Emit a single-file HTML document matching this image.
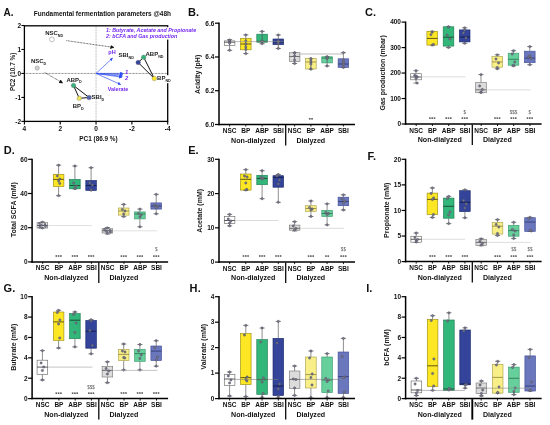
<!DOCTYPE html><html><head><meta charset="utf-8"><title>Fermentation parameters</title>
<style>html,body{margin:0;padding:0;background:#fff;}svg{display:block;will-change:transform;}text{font-family:"Liberation Sans",sans-serif;}</style></head><body>
<svg width="550" height="425" viewBox="0 0 550 425">
<rect x="0" y="0" width="550" height="425" fill="#ffffff"/>
<text x="3.60" y="16.20" font-size="10" font-weight="bold" fill="#111111" text-anchor="start">A.</text>
<text x="33.80" y="16.20" font-size="6.48" font-weight="bold" fill="#111111" text-anchor="start">Fundamental fermentation parameters @48h</text>
<line x1="24.40" y1="73.45" x2="167.70" y2="73.45" stroke="#4a4a4a" stroke-width="0.75" stroke-dasharray="0.8,0.65"/>
<line x1="96.05" y1="25.80" x2="96.05" y2="121.40" stroke="#8a8a8a" stroke-width="0.7" stroke-dasharray="0.8,0.7"/>
<rect x="24.40" y="25.80" width="143.30" height="95.60" fill="none" stroke="#000" stroke-width="1.3"/>
<line x1="21.40" y1="25.50" x2="24.40" y2="25.50" stroke="#000" stroke-width="1.1"/>
<text x="21.10" y="27.80" font-size="6.5" font-weight="bold" fill="#111111" text-anchor="end">2</text>
<line x1="21.40" y1="49.48" x2="24.40" y2="49.48" stroke="#000" stroke-width="1.1"/>
<text x="21.10" y="51.77" font-size="6.5" font-weight="bold" fill="#111111" text-anchor="end">1</text>
<line x1="21.40" y1="73.45" x2="24.40" y2="73.45" stroke="#000" stroke-width="1.1"/>
<text x="21.10" y="75.75" font-size="6.5" font-weight="bold" fill="#111111" text-anchor="end">0</text>
<line x1="21.40" y1="97.43" x2="24.40" y2="97.43" stroke="#000" stroke-width="1.1"/>
<text x="21.10" y="99.73" font-size="6.5" font-weight="bold" fill="#111111" text-anchor="end">-1</text>
<line x1="21.40" y1="121.40" x2="24.40" y2="121.40" stroke="#000" stroke-width="1.1"/>
<text x="21.10" y="123.70" font-size="6.5" font-weight="bold" fill="#111111" text-anchor="end">-2</text>
<line x1="24.40" y1="121.40" x2="24.40" y2="124.40" stroke="#000" stroke-width="1.1"/>
<text x="24.40" y="131.30" font-size="6.5" font-weight="bold" fill="#111111" text-anchor="middle">4</text>
<line x1="60.23" y1="121.40" x2="60.23" y2="124.40" stroke="#000" stroke-width="1.1"/>
<text x="60.23" y="131.30" font-size="6.5" font-weight="bold" fill="#111111" text-anchor="middle">2</text>
<line x1="96.05" y1="121.40" x2="96.05" y2="124.40" stroke="#000" stroke-width="1.1"/>
<text x="96.05" y="131.30" font-size="6.5" font-weight="bold" fill="#111111" text-anchor="middle">0</text>
<line x1="131.88" y1="121.40" x2="131.88" y2="124.40" stroke="#000" stroke-width="1.1"/>
<text x="131.88" y="131.30" font-size="6.5" font-weight="bold" fill="#111111" text-anchor="middle">-2</text>
<line x1="167.70" y1="121.40" x2="167.70" y2="124.40" stroke="#000" stroke-width="1.1"/>
<text x="167.70" y="131.30" font-size="6.5" font-weight="bold" fill="#111111" text-anchor="middle">-4</text>
<text x="98.50" y="141.20" font-size="6.4" font-weight="bold" fill="#111111" text-anchor="middle">PC1 (86.9 %)</text>
<text transform="translate(14.6,71.9) rotate(-90)" x="0" y="0" font-size="6.4" font-weight="bold" fill="#1a1a1a" text-anchor="middle">PC2 (10.7 %)</text>
<defs><marker id="ah" markerWidth="4" markerHeight="4" refX="3.2" refY="2" orient="auto" markerUnits="userSpaceOnUse"><path d="M0,0 L4,2 L0,4 z" fill="#111"/></marker><marker id="bh" markerWidth="3.4" markerHeight="3.4" refX="2.8" refY="1.7" orient="auto" markerUnits="userSpaceOnUse"><path d="M0,0 L3.4,1.7 L0,3.4 z" fill="#2f4cf5"/></marker></defs>
<line x1="66.4" y1="40.6" x2="113.6" y2="47.4" stroke="#1a1a1a" stroke-width="0.7" stroke-dasharray="0.9,0.6" marker-end="url(#ah)"/>
<line x1="44.6" y1="72.4" x2="62.4" y2="82.8" stroke="#1a1a1a" stroke-width="0.7" stroke-dasharray="0.9,0.6" marker-end="url(#ah)"/>
<line x1="96.05" y1="73.45" x2="112.4" y2="58.2" stroke="#3a56f0" stroke-width="0.7" marker-end="url(#bh)"/>
<line x1="96.05" y1="73.45" x2="122.9" y2="73.4" stroke="#3a56f0" stroke-width="0.7" marker-end="url(#bh)"/>
<line x1="96.05" y1="73.45" x2="122.6" y2="74.8" stroke="#3a56f0" stroke-width="0.7" marker-end="url(#bh)"/>
<line x1="96.05" y1="73.45" x2="122.2" y2="76.3" stroke="#3a56f0" stroke-width="0.7" marker-end="url(#bh)"/>
<line x1="96.05" y1="73.45" x2="121.8" y2="77.2" stroke="#3a56f0" stroke-width="0.7" marker-end="url(#bh)"/>
<line x1="96.05" y1="73.45" x2="120.6" y2="84.5" stroke="#3a56f0" stroke-width="0.7" marker-end="url(#bh)"/>
<text x="108.30" y="54.40" font-size="5.5" font-weight="bold" fill="#7428f2" text-anchor="start">pH</text>
<text x="124.90" y="73.70" font-size="5.8" font-weight="bold" fill="#7428f2" text-anchor="start" font-style="italic">1</text>
<text x="124.90" y="80.10" font-size="5.8" font-weight="bold" fill="#7428f2" text-anchor="start" font-style="italic">2</text>
<text x="107.80" y="91.10" font-size="5.35" font-weight="bold" fill="#7428f2" text-anchor="start">Valerate</text>
<rect x="104.50" y="27.20" width="92.00" height="12.40" fill="#ffffff" stroke="none" stroke-width="0.6"/>
<text x="106.00" y="32.10" font-size="5.33" font-weight="bold" fill="#7428f2" text-anchor="start" font-style="italic">1: Butyrate, Acetate and Propionate</text>
<text x="106.00" y="38.30" font-size="5.3" font-weight="bold" fill="#7428f2" text-anchor="start" font-style="italic">2: bCFA and Gas production</text>
<path d="M138.2,62.5 L143.7,57.2 L154.3,78.5 Z" fill="none" stroke="#111" stroke-width="1.0"/>
<path d="M73.5,85.5 L79.3,98.3 L89.1,97.5 Z" fill="none" stroke="#111" stroke-width="1.0"/>
<circle cx="51.90" cy="39.40" r="2.4" fill="#ffffff" stroke="#a8a8a8" stroke-width="0.75"/>
<circle cx="37.20" cy="68.10" r="2.1" fill="#d2d2d2" stroke="#a4a4a4" stroke-width="0.8"/>
<circle cx="138.20" cy="62.50" r="2.3" fill="#33449a" stroke="#555" stroke-width="0.3"/>
<circle cx="143.70" cy="57.20" r="2.3" fill="#33b679" stroke="#555" stroke-width="0.3"/>
<circle cx="154.30" cy="78.50" r="2.3" fill="#fde725" stroke="#555" stroke-width="0.3"/>
<circle cx="73.50" cy="85.50" r="2.3" fill="#38b27a" stroke="#555" stroke-width="0.3"/>
<circle cx="79.30" cy="98.30" r="2.3" fill="#eee460" stroke="#555" stroke-width="0.3"/>
<circle cx="89.10" cy="97.50" r="2.3" fill="#5565ad" stroke="#555" stroke-width="0.3"/>
<text x="45.20" y="34.70" font-size="6.0" font-weight="bold" fill="#222222">NSC<tspan font-size="3.72" dy="1.8">ND</tspan></text>
<text x="30.90" y="62.90" font-size="6.0" font-weight="bold" fill="#222222">NSC<tspan font-size="3.72" dy="1.8">D</tspan></text>
<text x="118.50" y="57.30" font-size="6.0" font-weight="bold" fill="#222222">SBI<tspan font-size="3.72" dy="1.8">ND</tspan></text>
<text x="145.50" y="55.70" font-size="6.0" font-weight="bold" fill="#222222">ABP<tspan font-size="3.72" dy="1.8">ND</tspan></text>
<rect x="157.00" y="75.20" width="15.50" height="8.00" fill="#ffffff" stroke="none" stroke-width="0.6"/>
<text x="157.10" y="80.30" font-size="6.0" font-weight="bold" fill="#222222">BP<tspan font-size="3.72" dy="1.8">ND</tspan></text>
<text x="66.40" y="81.50" font-size="6.0" font-weight="bold" fill="#222222">ABP<tspan font-size="3.72" dy="1.8">D</tspan></text>
<text x="72.70" y="108.40" font-size="6.0" font-weight="bold" fill="#222222">BP<tspan font-size="3.72" dy="1.8">D</tspan></text>
<text x="91.60" y="99.40" font-size="6.0" font-weight="bold" fill="#222222">SBI<tspan font-size="3.72" dy="1.8">D</tspan></text>
<text x="188.00" y="16.10" font-size="11" font-weight="bold" fill="#111111" text-anchor="start" letter-spacing="0.1">B.</text>
<line x1="229.60" y1="39.60" x2="229.60" y2="40.90" stroke="#5e5e5e" stroke-width="0.7"/>
<line x1="229.60" y1="45.40" x2="229.60" y2="50.30" stroke="#5e5e5e" stroke-width="0.7"/>
<line x1="227.00" y1="39.60" x2="232.20" y2="39.60" stroke="#5e5e5e" stroke-width="0.75"/>
<line x1="227.00" y1="50.30" x2="232.20" y2="50.30" stroke="#5e5e5e" stroke-width="0.75"/>
<rect x="224.30" y="40.90" width="10.60" height="4.50" fill="#ffffff" stroke="#6a6a6a" stroke-width="0.65"/>
<line x1="224.30" y1="42.20" x2="234.90" y2="42.20" stroke="#333333" stroke-width="0.8"/>
<line x1="229.60" y1="40.90" x2="229.60" y2="45.40" stroke="#55556a" stroke-width="0.8"/>
<circle cx="229.60" cy="41.00" r="1.15" fill="#78788c" stroke="#4e4e5c" stroke-width="0.45"/>
<circle cx="229.60" cy="42.00" r="1.15" fill="#78788c" stroke="#4e4e5c" stroke-width="0.45"/>
<circle cx="229.60" cy="43.20" r="1.15" fill="#78788c" stroke="#4e4e5c" stroke-width="0.45"/>
<circle cx="229.60" cy="50.30" r="1.15" fill="#78788c" stroke="#4e4e5c" stroke-width="0.45"/>
<circle cx="229.60" cy="40.00" r="1.15" fill="#78788c" stroke="#4e4e5c" stroke-width="0.45"/>
<line x1="245.80" y1="34.90" x2="245.80" y2="38.40" stroke="#5e5e5e" stroke-width="0.7"/>
<line x1="245.80" y1="49.80" x2="245.80" y2="53.60" stroke="#5e5e5e" stroke-width="0.7"/>
<line x1="243.20" y1="34.90" x2="248.40" y2="34.90" stroke="#5e5e5e" stroke-width="0.75"/>
<line x1="243.20" y1="53.60" x2="248.40" y2="53.60" stroke="#5e5e5e" stroke-width="0.75"/>
<rect x="240.50" y="38.40" width="10.60" height="11.40" fill="#fde725" stroke="#9c8d10" stroke-width="0.65"/>
<line x1="240.50" y1="44.00" x2="251.10" y2="44.00" stroke="#3a3510" stroke-width="0.8"/>
<line x1="245.80" y1="38.40" x2="245.80" y2="49.80" stroke="#55556a" stroke-width="0.8"/>
<circle cx="245.80" cy="34.90" r="1.15" fill="#78788c" stroke="#4e4e5c" stroke-width="0.45"/>
<circle cx="245.80" cy="41.00" r="1.15" fill="#78788c" stroke="#4e4e5c" stroke-width="0.45"/>
<circle cx="245.80" cy="44.00" r="1.15" fill="#78788c" stroke="#4e4e5c" stroke-width="0.45"/>
<circle cx="245.80" cy="47.00" r="1.15" fill="#78788c" stroke="#4e4e5c" stroke-width="0.45"/>
<circle cx="245.80" cy="49.50" r="1.15" fill="#78788c" stroke="#4e4e5c" stroke-width="0.45"/>
<circle cx="245.80" cy="53.60" r="1.15" fill="#78788c" stroke="#4e4e5c" stroke-width="0.45"/>
<line x1="262.10" y1="31.40" x2="262.10" y2="34.20" stroke="#5e5e5e" stroke-width="0.7"/>
<line x1="262.10" y1="42.20" x2="262.10" y2="43.70" stroke="#5e5e5e" stroke-width="0.7"/>
<line x1="259.50" y1="31.40" x2="264.70" y2="31.40" stroke="#5e5e5e" stroke-width="0.75"/>
<line x1="259.50" y1="43.70" x2="264.70" y2="43.70" stroke="#5e5e5e" stroke-width="0.75"/>
<rect x="256.80" y="34.20" width="10.60" height="8.00" fill="#33b679" stroke="#1f7d52" stroke-width="0.65"/>
<line x1="256.80" y1="41.40" x2="267.40" y2="41.40" stroke="#123a26" stroke-width="0.8"/>
<line x1="262.10" y1="34.20" x2="262.10" y2="42.20" stroke="#55556a" stroke-width="0.8"/>
<circle cx="262.10" cy="31.40" r="1.15" fill="#78788c" stroke="#4e4e5c" stroke-width="0.45"/>
<circle cx="262.10" cy="41.00" r="1.15" fill="#78788c" stroke="#4e4e5c" stroke-width="0.45"/>
<circle cx="262.10" cy="41.80" r="1.15" fill="#78788c" stroke="#4e4e5c" stroke-width="0.45"/>
<circle cx="262.10" cy="43.70" r="1.15" fill="#78788c" stroke="#4e4e5c" stroke-width="0.45"/>
<circle cx="262.10" cy="41.50" r="1.15" fill="#78788c" stroke="#4e4e5c" stroke-width="0.45"/>
<line x1="278.30" y1="35.00" x2="278.30" y2="39.00" stroke="#5e5e5e" stroke-width="0.7"/>
<line x1="278.30" y1="44.70" x2="278.30" y2="48.50" stroke="#5e5e5e" stroke-width="0.7"/>
<line x1="275.70" y1="35.00" x2="280.90" y2="35.00" stroke="#5e5e5e" stroke-width="0.75"/>
<line x1="275.70" y1="48.50" x2="280.90" y2="48.50" stroke="#5e5e5e" stroke-width="0.75"/>
<rect x="273.00" y="39.00" width="10.60" height="5.70" fill="#33449a" stroke="#1d2b6e" stroke-width="0.65"/>
<line x1="273.00" y1="42.00" x2="283.60" y2="42.00" stroke="#0f1738" stroke-width="0.8"/>
<line x1="278.30" y1="39.00" x2="278.30" y2="44.70" stroke="#55556a" stroke-width="0.8"/>
<circle cx="278.30" cy="35.00" r="1.15" fill="#78788c" stroke="#4e4e5c" stroke-width="0.45"/>
<circle cx="278.30" cy="41.00" r="1.15" fill="#78788c" stroke="#4e4e5c" stroke-width="0.45"/>
<circle cx="278.30" cy="44.00" r="1.15" fill="#78788c" stroke="#4e4e5c" stroke-width="0.45"/>
<circle cx="278.30" cy="48.50" r="1.15" fill="#78788c" stroke="#4e4e5c" stroke-width="0.45"/>
<circle cx="278.30" cy="42.00" r="1.15" fill="#78788c" stroke="#4e4e5c" stroke-width="0.45"/>
<line x1="294.60" y1="52.70" x2="294.60" y2="52.70" stroke="#5e5e5e" stroke-width="0.7"/>
<line x1="294.60" y1="61.60" x2="294.60" y2="63.50" stroke="#5e5e5e" stroke-width="0.7"/>
<line x1="292.00" y1="52.70" x2="297.20" y2="52.70" stroke="#5e5e5e" stroke-width="0.75"/>
<line x1="292.00" y1="63.50" x2="297.20" y2="63.50" stroke="#5e5e5e" stroke-width="0.75"/>
<rect x="289.30" y="52.70" width="10.60" height="8.90" fill="#dcdcdc" stroke="#7a7a7a" stroke-width="0.65"/>
<line x1="289.30" y1="56.50" x2="299.90" y2="56.50" stroke="#555555" stroke-width="0.8"/>
<line x1="294.60" y1="52.70" x2="294.60" y2="61.60" stroke="#55556a" stroke-width="0.8"/>
<circle cx="294.60" cy="52.70" r="1.15" fill="#78788c" stroke="#4e4e5c" stroke-width="0.45"/>
<circle cx="294.60" cy="56.00" r="1.15" fill="#78788c" stroke="#4e4e5c" stroke-width="0.45"/>
<circle cx="294.60" cy="60.00" r="1.15" fill="#78788c" stroke="#4e4e5c" stroke-width="0.45"/>
<circle cx="294.60" cy="63.50" r="1.15" fill="#78788c" stroke="#4e4e5c" stroke-width="0.45"/>
<circle cx="294.60" cy="53.00" r="1.15" fill="#78788c" stroke="#4e4e5c" stroke-width="0.45"/>
<line x1="310.90" y1="58.50" x2="310.90" y2="58.50" stroke="#5e5e5e" stroke-width="0.7"/>
<line x1="310.90" y1="69.00" x2="310.90" y2="69.00" stroke="#5e5e5e" stroke-width="0.7"/>
<line x1="308.30" y1="58.50" x2="313.50" y2="58.50" stroke="#5e5e5e" stroke-width="0.75"/>
<line x1="308.30" y1="69.00" x2="313.50" y2="69.00" stroke="#5e5e5e" stroke-width="0.75"/>
<rect x="305.60" y="58.50" width="10.60" height="10.50" fill="#f8ef88" stroke="#aca24a" stroke-width="0.65"/>
<line x1="305.60" y1="62.00" x2="316.20" y2="62.00" stroke="#8a8240" stroke-width="0.8"/>
<line x1="310.90" y1="58.50" x2="310.90" y2="69.00" stroke="#55556a" stroke-width="0.8"/>
<circle cx="310.90" cy="58.50" r="1.15" fill="#78788c" stroke="#4e4e5c" stroke-width="0.45"/>
<circle cx="310.90" cy="62.00" r="1.15" fill="#78788c" stroke="#4e4e5c" stroke-width="0.45"/>
<circle cx="310.90" cy="64.00" r="1.15" fill="#78788c" stroke="#4e4e5c" stroke-width="0.45"/>
<circle cx="310.90" cy="69.00" r="1.15" fill="#78788c" stroke="#4e4e5c" stroke-width="0.45"/>
<circle cx="310.90" cy="60.00" r="1.15" fill="#78788c" stroke="#4e4e5c" stroke-width="0.45"/>
<circle cx="310.90" cy="69.00" r="1.15" fill="#78788c" stroke="#4e4e5c" stroke-width="0.45"/>
<line x1="327.10" y1="56.80" x2="327.10" y2="56.80" stroke="#5e5e5e" stroke-width="0.7"/>
<line x1="327.10" y1="62.90" x2="327.10" y2="66.00" stroke="#5e5e5e" stroke-width="0.7"/>
<line x1="324.50" y1="56.80" x2="329.70" y2="56.80" stroke="#5e5e5e" stroke-width="0.75"/>
<line x1="324.50" y1="66.00" x2="329.70" y2="66.00" stroke="#5e5e5e" stroke-width="0.75"/>
<rect x="321.80" y="56.80" width="10.60" height="6.10" fill="#66cf9c" stroke="#3a9a6c" stroke-width="0.65"/>
<line x1="321.80" y1="58.00" x2="332.40" y2="58.00" stroke="#2a6e4e" stroke-width="0.8"/>
<line x1="327.10" y1="56.80" x2="327.10" y2="62.90" stroke="#55556a" stroke-width="0.8"/>
<circle cx="327.10" cy="56.80" r="1.15" fill="#78788c" stroke="#4e4e5c" stroke-width="0.45"/>
<circle cx="327.10" cy="57.50" r="1.15" fill="#78788c" stroke="#4e4e5c" stroke-width="0.45"/>
<circle cx="327.10" cy="58.50" r="1.15" fill="#78788c" stroke="#4e4e5c" stroke-width="0.45"/>
<circle cx="327.10" cy="66.00" r="1.15" fill="#78788c" stroke="#4e4e5c" stroke-width="0.45"/>
<circle cx="327.10" cy="57.00" r="1.15" fill="#78788c" stroke="#4e4e5c" stroke-width="0.45"/>
<line x1="343.40" y1="52.70" x2="343.40" y2="58.80" stroke="#5e5e5e" stroke-width="0.7"/>
<line x1="343.40" y1="67.40" x2="343.40" y2="67.40" stroke="#5e5e5e" stroke-width="0.7"/>
<line x1="340.80" y1="52.70" x2="346.00" y2="52.70" stroke="#5e5e5e" stroke-width="0.75"/>
<line x1="340.80" y1="67.40" x2="346.00" y2="67.40" stroke="#5e5e5e" stroke-width="0.75"/>
<rect x="338.10" y="58.80" width="10.60" height="8.60" fill="#6b77bc" stroke="#434f9a" stroke-width="0.65"/>
<line x1="338.10" y1="64.00" x2="348.70" y2="64.00" stroke="#2c3670" stroke-width="0.8"/>
<line x1="343.40" y1="58.80" x2="343.40" y2="67.40" stroke="#55556a" stroke-width="0.8"/>
<circle cx="343.40" cy="52.70" r="1.15" fill="#78788c" stroke="#4e4e5c" stroke-width="0.45"/>
<circle cx="343.40" cy="60.00" r="1.15" fill="#78788c" stroke="#4e4e5c" stroke-width="0.45"/>
<circle cx="343.40" cy="64.00" r="1.15" fill="#78788c" stroke="#4e4e5c" stroke-width="0.45"/>
<circle cx="343.40" cy="67.40" r="1.15" fill="#78788c" stroke="#4e4e5c" stroke-width="0.45"/>
<circle cx="343.40" cy="62.00" r="1.15" fill="#78788c" stroke="#4e4e5c" stroke-width="0.45"/>
<circle cx="343.40" cy="67.00" r="1.15" fill="#78788c" stroke="#4e4e5c" stroke-width="0.45"/>
<line x1="235.00" y1="41.60" x2="283.50" y2="41.60" stroke="#8e8e8e" stroke-width="0.6"/>
<line x1="300.00" y1="54.00" x2="343.40" y2="54.00" stroke="#8e8e8e" stroke-width="0.6"/>
<rect x="308.95" y="118.00" width="1.60" height="1.60" fill="#5a5a5a" stroke="none" stroke-width="0.6"/>
<rect x="311.25" y="118.00" width="1.60" height="1.60" fill="#5a5a5a" stroke="none" stroke-width="0.6"/>
<line x1="219.00" y1="22.60" x2="219.00" y2="125.25" stroke="#000" stroke-width="1.5"/>
<line x1="218.25" y1="124.50" x2="355.00" y2="124.50" stroke="#000" stroke-width="1.5"/>
<line x1="215.00" y1="124.50" x2="219.00" y2="124.50" stroke="#000" stroke-width="1.2"/>
<text x="214.40" y="126.80" font-size="6.5" font-weight="bold" fill="#111111" text-anchor="end">6.0</text>
<line x1="215.00" y1="90.73" x2="219.00" y2="90.73" stroke="#000" stroke-width="1.2"/>
<text x="214.40" y="93.03" font-size="6.5" font-weight="bold" fill="#111111" text-anchor="end">6.2</text>
<line x1="215.00" y1="56.97" x2="219.00" y2="56.97" stroke="#000" stroke-width="1.2"/>
<text x="214.40" y="59.27" font-size="6.5" font-weight="bold" fill="#111111" text-anchor="end">6.4</text>
<line x1="215.00" y1="23.20" x2="219.00" y2="23.20" stroke="#000" stroke-width="1.2"/>
<text x="214.40" y="25.50" font-size="6.5" font-weight="bold" fill="#111111" text-anchor="end">6.6</text>
<line x1="229.60" y1="124.50" x2="229.60" y2="126.50" stroke="#000" stroke-width="0.9"/>
<text x="229.60" y="133.00" font-size="6.5" font-weight="bold" fill="#111111" text-anchor="middle">NSC</text>
<line x1="245.80" y1="124.50" x2="245.80" y2="126.50" stroke="#000" stroke-width="0.9"/>
<text x="245.80" y="133.00" font-size="6.5" font-weight="bold" fill="#111111" text-anchor="middle">BP</text>
<line x1="262.10" y1="124.50" x2="262.10" y2="126.50" stroke="#000" stroke-width="0.9"/>
<text x="262.10" y="133.00" font-size="6.5" font-weight="bold" fill="#111111" text-anchor="middle">ABP</text>
<line x1="278.30" y1="124.50" x2="278.30" y2="126.50" stroke="#000" stroke-width="0.9"/>
<text x="278.30" y="133.00" font-size="6.5" font-weight="bold" fill="#111111" text-anchor="middle">SBI</text>
<line x1="294.60" y1="124.50" x2="294.60" y2="126.50" stroke="#000" stroke-width="0.9"/>
<text x="294.60" y="133.00" font-size="6.5" font-weight="bold" fill="#111111" text-anchor="middle">NSC</text>
<line x1="310.90" y1="124.50" x2="310.90" y2="126.50" stroke="#000" stroke-width="0.9"/>
<text x="310.90" y="133.00" font-size="6.5" font-weight="bold" fill="#111111" text-anchor="middle">BP</text>
<line x1="327.10" y1="124.50" x2="327.10" y2="126.50" stroke="#000" stroke-width="0.9"/>
<text x="327.10" y="133.00" font-size="6.5" font-weight="bold" fill="#111111" text-anchor="middle">ABP</text>
<line x1="343.40" y1="124.50" x2="343.40" y2="126.50" stroke="#000" stroke-width="0.9"/>
<text x="343.40" y="133.00" font-size="6.5" font-weight="bold" fill="#111111" text-anchor="middle">SBI</text>
<line x1="285.70" y1="125.00" x2="285.70" y2="145.50" stroke="#000" stroke-width="1.25"/>
<text x="253.20" y="142.60" font-size="7.1" font-weight="bold" fill="#111111" text-anchor="middle">Non-dialyzed</text>
<text x="310.80" y="142.60" font-size="7.1" font-weight="bold" fill="#111111" text-anchor="middle">Dialyzed</text>
<text transform="translate(200.40,74.40) rotate(-90)" x="0" y="0" font-size="7" font-weight="bold" fill="#1a1a1a" text-anchor="middle">Acidity (pH)</text>
<text x="365.00" y="16.20" font-size="11" font-weight="bold" fill="#111111" text-anchor="start" letter-spacing="0.1">C.</text>
<line x1="416.00" y1="70.70" x2="416.00" y2="73.70" stroke="#5e5e5e" stroke-width="0.7"/>
<line x1="416.00" y1="79.80" x2="416.00" y2="83.10" stroke="#5e5e5e" stroke-width="0.7"/>
<line x1="413.40" y1="70.70" x2="418.60" y2="70.70" stroke="#5e5e5e" stroke-width="0.75"/>
<line x1="413.40" y1="83.10" x2="418.60" y2="83.10" stroke="#5e5e5e" stroke-width="0.75"/>
<rect x="410.70" y="73.70" width="10.60" height="6.10" fill="#ffffff" stroke="#6a6a6a" stroke-width="0.65"/>
<line x1="410.70" y1="77.00" x2="421.30" y2="77.00" stroke="#333333" stroke-width="0.8"/>
<circle cx="416.00" cy="70.70" r="1.15" fill="#78788c" stroke="#4e4e5c" stroke-width="0.45"/>
<circle cx="414.70" cy="75.50" r="1.15" fill="#78788c" stroke="#4e4e5c" stroke-width="0.45"/>
<circle cx="417.30" cy="77.00" r="1.15" fill="#78788c" stroke="#4e4e5c" stroke-width="0.45"/>
<circle cx="416.00" cy="78.50" r="1.15" fill="#78788c" stroke="#4e4e5c" stroke-width="0.45"/>
<circle cx="417.10" cy="83.10" r="1.15" fill="#78788c" stroke="#4e4e5c" stroke-width="0.45"/>
<circle cx="416.00" cy="76.00" r="1.15" fill="#78788c" stroke="#4e4e5c" stroke-width="0.45"/>
<line x1="432.20" y1="31.30" x2="432.20" y2="31.30" stroke="#5e5e5e" stroke-width="0.7"/>
<line x1="432.20" y1="45.10" x2="432.20" y2="45.10" stroke="#5e5e5e" stroke-width="0.7"/>
<line x1="429.60" y1="31.30" x2="434.80" y2="31.30" stroke="#5e5e5e" stroke-width="0.75"/>
<line x1="429.60" y1="45.10" x2="434.80" y2="45.10" stroke="#5e5e5e" stroke-width="0.75"/>
<rect x="426.90" y="31.30" width="10.60" height="13.80" fill="#fde725" stroke="#9c8d10" stroke-width="0.65"/>
<line x1="426.90" y1="38.40" x2="437.50" y2="38.40" stroke="#3a3510" stroke-width="0.8"/>
<circle cx="432.20" cy="32.00" r="1.15" fill="#78788c" stroke="#4e4e5c" stroke-width="0.45"/>
<circle cx="430.90" cy="34.70" r="1.15" fill="#78788c" stroke="#4e4e5c" stroke-width="0.45"/>
<circle cx="433.50" cy="44.50" r="1.15" fill="#78788c" stroke="#4e4e5c" stroke-width="0.45"/>
<circle cx="432.20" cy="45.10" r="1.15" fill="#78788c" stroke="#4e4e5c" stroke-width="0.45"/>
<circle cx="432.20" cy="32.00" r="1.15" fill="#78788c" stroke="#4e4e5c" stroke-width="0.45"/>
<line x1="448.50" y1="26.80" x2="448.50" y2="26.80" stroke="#5e5e5e" stroke-width="0.7"/>
<line x1="448.50" y1="46.10" x2="448.50" y2="47.50" stroke="#5e5e5e" stroke-width="0.7"/>
<line x1="445.90" y1="26.80" x2="451.10" y2="26.80" stroke="#5e5e5e" stroke-width="0.75"/>
<line x1="445.90" y1="47.50" x2="451.10" y2="47.50" stroke="#5e5e5e" stroke-width="0.75"/>
<rect x="443.20" y="26.80" width="10.60" height="19.30" fill="#33b679" stroke="#1f7d52" stroke-width="0.65"/>
<line x1="443.20" y1="37.20" x2="453.80" y2="37.20" stroke="#123a26" stroke-width="0.8"/>
<circle cx="448.50" cy="26.80" r="1.15" fill="#78788c" stroke="#4e4e5c" stroke-width="0.45"/>
<circle cx="447.20" cy="35.00" r="1.15" fill="#78788c" stroke="#4e4e5c" stroke-width="0.45"/>
<circle cx="449.80" cy="39.00" r="1.15" fill="#78788c" stroke="#4e4e5c" stroke-width="0.45"/>
<circle cx="448.50" cy="47.50" r="1.15" fill="#78788c" stroke="#4e4e5c" stroke-width="0.45"/>
<circle cx="448.50" cy="27.00" r="1.15" fill="#78788c" stroke="#4e4e5c" stroke-width="0.45"/>
<line x1="464.70" y1="27.80" x2="464.70" y2="29.90" stroke="#5e5e5e" stroke-width="0.7"/>
<line x1="464.70" y1="41.90" x2="464.70" y2="43.30" stroke="#5e5e5e" stroke-width="0.7"/>
<line x1="462.10" y1="27.80" x2="467.30" y2="27.80" stroke="#5e5e5e" stroke-width="0.75"/>
<line x1="462.10" y1="43.30" x2="467.30" y2="43.30" stroke="#5e5e5e" stroke-width="0.75"/>
<rect x="459.40" y="29.90" width="10.60" height="12.00" fill="#33449a" stroke="#1d2b6e" stroke-width="0.65"/>
<line x1="459.40" y1="37.00" x2="470.00" y2="37.00" stroke="#0f1738" stroke-width="0.8"/>
<circle cx="464.70" cy="27.80" r="1.15" fill="#78788c" stroke="#4e4e5c" stroke-width="0.45"/>
<circle cx="463.40" cy="33.00" r="1.15" fill="#78788c" stroke="#4e4e5c" stroke-width="0.45"/>
<circle cx="466.00" cy="38.00" r="1.15" fill="#78788c" stroke="#4e4e5c" stroke-width="0.45"/>
<circle cx="464.70" cy="43.30" r="1.15" fill="#78788c" stroke="#4e4e5c" stroke-width="0.45"/>
<circle cx="464.70" cy="30.00" r="1.15" fill="#78788c" stroke="#4e4e5c" stroke-width="0.45"/>
<line x1="481.00" y1="74.60" x2="481.00" y2="82.50" stroke="#5e5e5e" stroke-width="0.7"/>
<line x1="481.00" y1="92.70" x2="481.00" y2="92.70" stroke="#5e5e5e" stroke-width="0.7"/>
<line x1="478.40" y1="74.60" x2="483.60" y2="74.60" stroke="#5e5e5e" stroke-width="0.75"/>
<line x1="478.40" y1="92.70" x2="483.60" y2="92.70" stroke="#5e5e5e" stroke-width="0.75"/>
<rect x="475.70" y="82.50" width="10.60" height="10.20" fill="#dcdcdc" stroke="#7a7a7a" stroke-width="0.65"/>
<line x1="475.70" y1="89.80" x2="486.30" y2="89.80" stroke="#555555" stroke-width="0.8"/>
<circle cx="481.00" cy="74.60" r="1.15" fill="#78788c" stroke="#4e4e5c" stroke-width="0.45"/>
<circle cx="479.70" cy="86.00" r="1.15" fill="#78788c" stroke="#4e4e5c" stroke-width="0.45"/>
<circle cx="482.30" cy="89.50" r="1.15" fill="#78788c" stroke="#4e4e5c" stroke-width="0.45"/>
<circle cx="481.00" cy="92.00" r="1.15" fill="#78788c" stroke="#4e4e5c" stroke-width="0.45"/>
<circle cx="481.00" cy="92.50" r="1.15" fill="#78788c" stroke="#4e4e5c" stroke-width="0.45"/>
<line x1="497.30" y1="54.80" x2="497.30" y2="56.50" stroke="#5e5e5e" stroke-width="0.7"/>
<line x1="497.30" y1="67.20" x2="497.30" y2="68.80" stroke="#5e5e5e" stroke-width="0.7"/>
<line x1="494.70" y1="54.80" x2="499.90" y2="54.80" stroke="#5e5e5e" stroke-width="0.75"/>
<line x1="494.70" y1="68.80" x2="499.90" y2="68.80" stroke="#5e5e5e" stroke-width="0.75"/>
<rect x="492.00" y="56.50" width="10.60" height="10.70" fill="#f8ef88" stroke="#aca24a" stroke-width="0.65"/>
<line x1="492.00" y1="61.90" x2="502.60" y2="61.90" stroke="#8a8240" stroke-width="0.8"/>
<circle cx="497.30" cy="54.80" r="1.15" fill="#78788c" stroke="#4e4e5c" stroke-width="0.45"/>
<circle cx="496.00" cy="59.00" r="1.15" fill="#78788c" stroke="#4e4e5c" stroke-width="0.45"/>
<circle cx="498.60" cy="63.00" r="1.15" fill="#78788c" stroke="#4e4e5c" stroke-width="0.45"/>
<circle cx="497.30" cy="68.80" r="1.15" fill="#78788c" stroke="#4e4e5c" stroke-width="0.45"/>
<circle cx="497.30" cy="67.50" r="1.15" fill="#78788c" stroke="#4e4e5c" stroke-width="0.45"/>
<line x1="513.50" y1="50.70" x2="513.50" y2="53.20" stroke="#5e5e5e" stroke-width="0.7"/>
<line x1="513.50" y1="65.20" x2="513.50" y2="65.90" stroke="#5e5e5e" stroke-width="0.7"/>
<line x1="510.90" y1="50.70" x2="516.10" y2="50.70" stroke="#5e5e5e" stroke-width="0.75"/>
<line x1="510.90" y1="65.90" x2="516.10" y2="65.90" stroke="#5e5e5e" stroke-width="0.75"/>
<rect x="508.20" y="53.20" width="10.60" height="12.00" fill="#66cf9c" stroke="#3a9a6c" stroke-width="0.65"/>
<line x1="508.20" y1="59.30" x2="518.80" y2="59.30" stroke="#2a6e4e" stroke-width="0.8"/>
<circle cx="513.50" cy="50.70" r="1.15" fill="#78788c" stroke="#4e4e5c" stroke-width="0.45"/>
<circle cx="512.20" cy="54.00" r="1.15" fill="#78788c" stroke="#4e4e5c" stroke-width="0.45"/>
<circle cx="514.80" cy="62.00" r="1.15" fill="#78788c" stroke="#4e4e5c" stroke-width="0.45"/>
<circle cx="513.50" cy="65.90" r="1.15" fill="#78788c" stroke="#4e4e5c" stroke-width="0.45"/>
<circle cx="513.50" cy="65.20" r="1.15" fill="#78788c" stroke="#4e4e5c" stroke-width="0.45"/>
<line x1="529.80" y1="46.60" x2="529.80" y2="51.20" stroke="#5e5e5e" stroke-width="0.7"/>
<line x1="529.80" y1="62.70" x2="529.80" y2="64.70" stroke="#5e5e5e" stroke-width="0.7"/>
<line x1="527.20" y1="46.60" x2="532.40" y2="46.60" stroke="#5e5e5e" stroke-width="0.75"/>
<line x1="527.20" y1="64.70" x2="532.40" y2="64.70" stroke="#5e5e5e" stroke-width="0.75"/>
<rect x="524.50" y="51.20" width="10.60" height="11.50" fill="#6b77bc" stroke="#434f9a" stroke-width="0.65"/>
<line x1="524.50" y1="58.10" x2="535.10" y2="58.10" stroke="#2c3670" stroke-width="0.8"/>
<circle cx="529.80" cy="46.60" r="1.15" fill="#78788c" stroke="#4e4e5c" stroke-width="0.45"/>
<circle cx="528.50" cy="57.00" r="1.15" fill="#78788c" stroke="#4e4e5c" stroke-width="0.45"/>
<circle cx="531.10" cy="58.50" r="1.15" fill="#78788c" stroke="#4e4e5c" stroke-width="0.45"/>
<circle cx="529.80" cy="64.70" r="1.15" fill="#78788c" stroke="#4e4e5c" stroke-width="0.45"/>
<circle cx="529.80" cy="56.00" r="1.15" fill="#78788c" stroke="#4e4e5c" stroke-width="0.45"/>
<line x1="421.40" y1="76.80" x2="465.40" y2="76.80" stroke="#c6c6c6" stroke-width="0.6"/>
<line x1="486.40" y1="89.90" x2="530.70" y2="89.90" stroke="#c6c6c6" stroke-width="0.6"/>
<rect x="429.10" y="117.30" width="1.60" height="1.60" fill="#5a5a5a" stroke="none" stroke-width="0.6"/>
<rect x="431.40" y="117.30" width="1.60" height="1.60" fill="#5a5a5a" stroke="none" stroke-width="0.6"/>
<rect x="433.70" y="117.30" width="1.60" height="1.60" fill="#5a5a5a" stroke="none" stroke-width="0.6"/>
<rect x="445.40" y="117.30" width="1.60" height="1.60" fill="#5a5a5a" stroke="none" stroke-width="0.6"/>
<rect x="447.70" y="117.30" width="1.60" height="1.60" fill="#5a5a5a" stroke="none" stroke-width="0.6"/>
<rect x="450.00" y="117.30" width="1.60" height="1.60" fill="#5a5a5a" stroke="none" stroke-width="0.6"/>
<rect x="461.60" y="117.30" width="1.60" height="1.60" fill="#5a5a5a" stroke="none" stroke-width="0.6"/>
<rect x="463.90" y="117.30" width="1.60" height="1.60" fill="#5a5a5a" stroke="none" stroke-width="0.6"/>
<rect x="466.20" y="117.30" width="1.60" height="1.60" fill="#5a5a5a" stroke="none" stroke-width="0.6"/>
<text x="464.70" y="113.80" font-size="4.6" font-weight="normal" fill="#5a5a5a" text-anchor="middle">$</text>
<rect x="494.20" y="117.30" width="1.60" height="1.60" fill="#5a5a5a" stroke="none" stroke-width="0.6"/>
<rect x="496.50" y="117.30" width="1.60" height="1.60" fill="#5a5a5a" stroke="none" stroke-width="0.6"/>
<rect x="498.80" y="117.30" width="1.60" height="1.60" fill="#5a5a5a" stroke="none" stroke-width="0.6"/>
<rect x="510.40" y="117.30" width="1.60" height="1.60" fill="#5a5a5a" stroke="none" stroke-width="0.6"/>
<rect x="512.70" y="117.30" width="1.60" height="1.60" fill="#5a5a5a" stroke="none" stroke-width="0.6"/>
<rect x="515.00" y="117.30" width="1.60" height="1.60" fill="#5a5a5a" stroke="none" stroke-width="0.6"/>
<rect x="526.70" y="117.30" width="1.60" height="1.60" fill="#5a5a5a" stroke="none" stroke-width="0.6"/>
<rect x="529.00" y="117.30" width="1.60" height="1.60" fill="#5a5a5a" stroke="none" stroke-width="0.6"/>
<rect x="531.30" y="117.30" width="1.60" height="1.60" fill="#5a5a5a" stroke="none" stroke-width="0.6"/>
<text x="513.50" y="113.80" font-size="4.6" font-weight="normal" fill="#5a5a5a" text-anchor="middle">$$$</text>
<text x="529.80" y="113.80" font-size="4.6" font-weight="normal" fill="#5a5a5a" text-anchor="middle">$</text>
<line x1="405.60" y1="21.50" x2="405.60" y2="124.75" stroke="#000" stroke-width="1.5"/>
<line x1="404.85" y1="124.00" x2="541.60" y2="124.00" stroke="#000" stroke-width="1.5"/>
<line x1="401.60" y1="124.00" x2="405.60" y2="124.00" stroke="#000" stroke-width="1.2"/>
<text x="401.00" y="126.30" font-size="6.5" font-weight="bold" fill="#111111" text-anchor="end">0</text>
<line x1="401.60" y1="98.53" x2="405.60" y2="98.53" stroke="#000" stroke-width="1.2"/>
<text x="401.00" y="100.83" font-size="6.5" font-weight="bold" fill="#111111" text-anchor="end">100</text>
<line x1="401.60" y1="73.05" x2="405.60" y2="73.05" stroke="#000" stroke-width="1.2"/>
<text x="401.00" y="75.35" font-size="6.5" font-weight="bold" fill="#111111" text-anchor="end">200</text>
<line x1="401.60" y1="47.57" x2="405.60" y2="47.57" stroke="#000" stroke-width="1.2"/>
<text x="401.00" y="49.87" font-size="6.5" font-weight="bold" fill="#111111" text-anchor="end">300</text>
<line x1="401.60" y1="22.10" x2="405.60" y2="22.10" stroke="#000" stroke-width="1.2"/>
<text x="401.00" y="24.40" font-size="6.5" font-weight="bold" fill="#111111" text-anchor="end">400</text>
<line x1="416.20" y1="124.00" x2="416.20" y2="126.00" stroke="#000" stroke-width="0.9"/>
<text x="416.20" y="132.50" font-size="6.5" font-weight="bold" fill="#111111" text-anchor="middle">NSC</text>
<line x1="432.40" y1="124.00" x2="432.40" y2="126.00" stroke="#000" stroke-width="0.9"/>
<text x="432.40" y="132.50" font-size="6.5" font-weight="bold" fill="#111111" text-anchor="middle">BP</text>
<line x1="448.70" y1="124.00" x2="448.70" y2="126.00" stroke="#000" stroke-width="0.9"/>
<text x="448.70" y="132.50" font-size="6.5" font-weight="bold" fill="#111111" text-anchor="middle">ABP</text>
<line x1="464.90" y1="124.00" x2="464.90" y2="126.00" stroke="#000" stroke-width="0.9"/>
<text x="464.90" y="132.50" font-size="6.5" font-weight="bold" fill="#111111" text-anchor="middle">SBI</text>
<line x1="481.20" y1="124.00" x2="481.20" y2="126.00" stroke="#000" stroke-width="0.9"/>
<text x="481.20" y="132.50" font-size="6.5" font-weight="bold" fill="#111111" text-anchor="middle">NSC</text>
<line x1="497.50" y1="124.00" x2="497.50" y2="126.00" stroke="#000" stroke-width="0.9"/>
<text x="497.50" y="132.50" font-size="6.5" font-weight="bold" fill="#111111" text-anchor="middle">BP</text>
<line x1="513.70" y1="124.00" x2="513.70" y2="126.00" stroke="#000" stroke-width="0.9"/>
<text x="513.70" y="132.50" font-size="6.5" font-weight="bold" fill="#111111" text-anchor="middle">ABP</text>
<line x1="530.00" y1="124.00" x2="530.00" y2="126.00" stroke="#000" stroke-width="0.9"/>
<text x="530.00" y="132.50" font-size="6.5" font-weight="bold" fill="#111111" text-anchor="middle">SBI</text>
<line x1="472.30" y1="124.50" x2="472.30" y2="145.00" stroke="#000" stroke-width="1.25"/>
<text x="439.80" y="142.10" font-size="7.1" font-weight="bold" fill="#111111" text-anchor="middle">Non-dialyzed</text>
<text x="497.40" y="142.10" font-size="7.1" font-weight="bold" fill="#111111" text-anchor="middle">Dialyzed</text>
<text transform="translate(385.30,72.80) rotate(-90)" x="0" y="0" font-size="7" font-weight="bold" fill="#1a1a1a" text-anchor="middle">Gas production (mbar)</text>
<text x="3.70" y="153.60" font-size="11" font-weight="bold" fill="#111111" text-anchor="start" letter-spacing="0.1">D.</text>
<line x1="42.40" y1="222.00" x2="42.40" y2="222.70" stroke="#5e5e5e" stroke-width="0.7"/>
<line x1="42.40" y1="228.00" x2="42.40" y2="228.00" stroke="#5e5e5e" stroke-width="0.7"/>
<line x1="39.80" y1="222.00" x2="45.00" y2="222.00" stroke="#5e5e5e" stroke-width="0.75"/>
<line x1="39.80" y1="228.00" x2="45.00" y2="228.00" stroke="#5e5e5e" stroke-width="0.75"/>
<rect x="37.10" y="222.70" width="10.60" height="5.30" fill="#ffffff" stroke="#6a6a6a" stroke-width="0.65"/>
<line x1="37.10" y1="225.50" x2="47.70" y2="225.50" stroke="#333333" stroke-width="0.8"/>
<circle cx="42.40" cy="222.20" r="1.15" fill="#78788c" stroke="#4e4e5c" stroke-width="0.45"/>
<circle cx="39.40" cy="223.60" r="1.15" fill="#78788c" stroke="#4e4e5c" stroke-width="0.45"/>
<circle cx="45.00" cy="224.40" r="1.15" fill="#78788c" stroke="#4e4e5c" stroke-width="0.45"/>
<circle cx="41.40" cy="225.20" r="1.15" fill="#78788c" stroke="#4e4e5c" stroke-width="0.45"/>
<circle cx="45.40" cy="226.40" r="1.15" fill="#78788c" stroke="#4e4e5c" stroke-width="0.45"/>
<circle cx="39.80" cy="227.20" r="1.15" fill="#78788c" stroke="#4e4e5c" stroke-width="0.45"/>
<circle cx="42.40" cy="228.00" r="1.15" fill="#78788c" stroke="#4e4e5c" stroke-width="0.45"/>
<line x1="58.60" y1="165.20" x2="58.60" y2="174.40" stroke="#5e5e5e" stroke-width="0.7"/>
<line x1="58.60" y1="186.60" x2="58.60" y2="195.70" stroke="#5e5e5e" stroke-width="0.7"/>
<line x1="56.00" y1="165.20" x2="61.20" y2="165.20" stroke="#5e5e5e" stroke-width="0.75"/>
<line x1="56.00" y1="195.70" x2="61.20" y2="195.70" stroke="#5e5e5e" stroke-width="0.75"/>
<rect x="53.30" y="174.40" width="10.60" height="12.20" fill="#fde725" stroke="#9c8d10" stroke-width="0.65"/>
<line x1="53.30" y1="179.40" x2="63.90" y2="179.40" stroke="#3a3510" stroke-width="0.8"/>
<circle cx="58.60" cy="165.20" r="1.15" fill="#78788c" stroke="#4e4e5c" stroke-width="0.45"/>
<circle cx="57.30" cy="176.00" r="1.15" fill="#78788c" stroke="#4e4e5c" stroke-width="0.45"/>
<circle cx="59.90" cy="179.00" r="1.15" fill="#78788c" stroke="#4e4e5c" stroke-width="0.45"/>
<circle cx="58.60" cy="181.00" r="1.15" fill="#78788c" stroke="#4e4e5c" stroke-width="0.45"/>
<circle cx="59.70" cy="183.50" r="1.15" fill="#78788c" stroke="#4e4e5c" stroke-width="0.45"/>
<circle cx="58.60" cy="195.70" r="1.15" fill="#78788c" stroke="#4e4e5c" stroke-width="0.45"/>
<line x1="74.90" y1="166.00" x2="74.90" y2="179.40" stroke="#5e5e5e" stroke-width="0.7"/>
<line x1="74.90" y1="188.80" x2="74.90" y2="188.80" stroke="#5e5e5e" stroke-width="0.7"/>
<line x1="72.30" y1="166.00" x2="77.50" y2="166.00" stroke="#5e5e5e" stroke-width="0.75"/>
<line x1="72.30" y1="188.80" x2="77.50" y2="188.80" stroke="#5e5e5e" stroke-width="0.75"/>
<rect x="69.60" y="179.40" width="10.60" height="9.40" fill="#33b679" stroke="#1f7d52" stroke-width="0.65"/>
<line x1="69.60" y1="185.50" x2="80.20" y2="185.50" stroke="#123a26" stroke-width="0.8"/>
<circle cx="74.90" cy="166.00" r="1.15" fill="#78788c" stroke="#4e4e5c" stroke-width="0.45"/>
<circle cx="73.60" cy="183.00" r="1.15" fill="#78788c" stroke="#4e4e5c" stroke-width="0.45"/>
<circle cx="76.20" cy="186.00" r="1.15" fill="#78788c" stroke="#4e4e5c" stroke-width="0.45"/>
<circle cx="74.90" cy="188.50" r="1.15" fill="#78788c" stroke="#4e4e5c" stroke-width="0.45"/>
<circle cx="74.90" cy="188.50" r="1.15" fill="#78788c" stroke="#4e4e5c" stroke-width="0.45"/>
<line x1="91.10" y1="167.70" x2="91.10" y2="180.50" stroke="#5e5e5e" stroke-width="0.7"/>
<line x1="91.10" y1="190.40" x2="91.10" y2="190.40" stroke="#5e5e5e" stroke-width="0.7"/>
<line x1="88.50" y1="167.70" x2="93.70" y2="167.70" stroke="#5e5e5e" stroke-width="0.75"/>
<line x1="88.50" y1="190.40" x2="93.70" y2="190.40" stroke="#5e5e5e" stroke-width="0.75"/>
<rect x="85.80" y="180.50" width="10.60" height="9.90" fill="#33449a" stroke="#1d2b6e" stroke-width="0.65"/>
<line x1="85.80" y1="185.50" x2="96.40" y2="185.50" stroke="#0f1738" stroke-width="0.8"/>
<circle cx="91.10" cy="167.70" r="1.15" fill="#78788c" stroke="#4e4e5c" stroke-width="0.45"/>
<circle cx="89.80" cy="183.00" r="1.15" fill="#78788c" stroke="#4e4e5c" stroke-width="0.45"/>
<circle cx="92.40" cy="185.00" r="1.15" fill="#78788c" stroke="#4e4e5c" stroke-width="0.45"/>
<circle cx="91.10" cy="190.00" r="1.15" fill="#78788c" stroke="#4e4e5c" stroke-width="0.45"/>
<circle cx="91.10" cy="190.00" r="1.15" fill="#78788c" stroke="#4e4e5c" stroke-width="0.45"/>
<line x1="107.40" y1="227.50" x2="107.40" y2="228.70" stroke="#5e5e5e" stroke-width="0.7"/>
<line x1="107.40" y1="233.00" x2="107.40" y2="234.00" stroke="#5e5e5e" stroke-width="0.7"/>
<line x1="104.80" y1="227.50" x2="110.00" y2="227.50" stroke="#5e5e5e" stroke-width="0.75"/>
<line x1="104.80" y1="234.00" x2="110.00" y2="234.00" stroke="#5e5e5e" stroke-width="0.75"/>
<rect x="102.10" y="228.70" width="10.60" height="4.30" fill="#dcdcdc" stroke="#7a7a7a" stroke-width="0.65"/>
<line x1="102.10" y1="230.80" x2="112.70" y2="230.80" stroke="#555555" stroke-width="0.8"/>
<circle cx="107.40" cy="228.00" r="1.15" fill="#78788c" stroke="#4e4e5c" stroke-width="0.45"/>
<circle cx="104.60" cy="229.40" r="1.15" fill="#78788c" stroke="#4e4e5c" stroke-width="0.45"/>
<circle cx="110.00" cy="230.40" r="1.15" fill="#78788c" stroke="#4e4e5c" stroke-width="0.45"/>
<circle cx="106.40" cy="231.20" r="1.15" fill="#78788c" stroke="#4e4e5c" stroke-width="0.45"/>
<circle cx="110.40" cy="232.20" r="1.15" fill="#78788c" stroke="#4e4e5c" stroke-width="0.45"/>
<circle cx="107.40" cy="233.40" r="1.15" fill="#78788c" stroke="#4e4e5c" stroke-width="0.45"/>
<line x1="123.70" y1="204.40" x2="123.70" y2="208.00" stroke="#5e5e5e" stroke-width="0.7"/>
<line x1="123.70" y1="215.10" x2="123.70" y2="216.60" stroke="#5e5e5e" stroke-width="0.7"/>
<line x1="121.10" y1="204.40" x2="126.30" y2="204.40" stroke="#5e5e5e" stroke-width="0.75"/>
<line x1="121.10" y1="216.60" x2="126.30" y2="216.60" stroke="#5e5e5e" stroke-width="0.75"/>
<rect x="118.40" y="208.00" width="10.60" height="7.10" fill="#f8ef88" stroke="#aca24a" stroke-width="0.65"/>
<line x1="118.40" y1="211.00" x2="129.00" y2="211.00" stroke="#8a8240" stroke-width="0.8"/>
<circle cx="123.70" cy="204.40" r="1.15" fill="#78788c" stroke="#4e4e5c" stroke-width="0.45"/>
<circle cx="122.40" cy="209.50" r="1.15" fill="#78788c" stroke="#4e4e5c" stroke-width="0.45"/>
<circle cx="125.00" cy="211.00" r="1.15" fill="#78788c" stroke="#4e4e5c" stroke-width="0.45"/>
<circle cx="123.70" cy="214.00" r="1.15" fill="#78788c" stroke="#4e4e5c" stroke-width="0.45"/>
<circle cx="123.70" cy="216.60" r="1.15" fill="#78788c" stroke="#4e4e5c" stroke-width="0.45"/>
<line x1="139.90" y1="209.10" x2="139.90" y2="211.90" stroke="#5e5e5e" stroke-width="0.7"/>
<line x1="139.90" y1="218.90" x2="139.90" y2="226.80" stroke="#5e5e5e" stroke-width="0.7"/>
<line x1="137.30" y1="209.10" x2="142.50" y2="209.10" stroke="#5e5e5e" stroke-width="0.75"/>
<line x1="137.30" y1="226.80" x2="142.50" y2="226.80" stroke="#5e5e5e" stroke-width="0.75"/>
<rect x="134.60" y="211.90" width="10.60" height="7.00" fill="#66cf9c" stroke="#3a9a6c" stroke-width="0.65"/>
<line x1="134.60" y1="214.00" x2="145.20" y2="214.00" stroke="#2a6e4e" stroke-width="0.8"/>
<circle cx="139.90" cy="209.10" r="1.15" fill="#78788c" stroke="#4e4e5c" stroke-width="0.45"/>
<circle cx="138.60" cy="213.50" r="1.15" fill="#78788c" stroke="#4e4e5c" stroke-width="0.45"/>
<circle cx="141.20" cy="215.00" r="1.15" fill="#78788c" stroke="#4e4e5c" stroke-width="0.45"/>
<circle cx="139.90" cy="217.00" r="1.15" fill="#78788c" stroke="#4e4e5c" stroke-width="0.45"/>
<circle cx="139.90" cy="226.80" r="1.15" fill="#78788c" stroke="#4e4e5c" stroke-width="0.45"/>
<line x1="156.20" y1="194.40" x2="156.20" y2="202.90" stroke="#5e5e5e" stroke-width="0.7"/>
<line x1="156.20" y1="209.10" x2="156.20" y2="213.80" stroke="#5e5e5e" stroke-width="0.7"/>
<line x1="153.60" y1="194.40" x2="158.80" y2="194.40" stroke="#5e5e5e" stroke-width="0.75"/>
<line x1="153.60" y1="213.80" x2="158.80" y2="213.80" stroke="#5e5e5e" stroke-width="0.75"/>
<rect x="150.90" y="202.90" width="10.60" height="6.20" fill="#6b77bc" stroke="#434f9a" stroke-width="0.65"/>
<line x1="150.90" y1="206.00" x2="161.50" y2="206.00" stroke="#2c3670" stroke-width="0.8"/>
<circle cx="156.20" cy="194.40" r="1.15" fill="#78788c" stroke="#4e4e5c" stroke-width="0.45"/>
<circle cx="154.90" cy="205.00" r="1.15" fill="#78788c" stroke="#4e4e5c" stroke-width="0.45"/>
<circle cx="157.50" cy="206.50" r="1.15" fill="#78788c" stroke="#4e4e5c" stroke-width="0.45"/>
<circle cx="156.20" cy="207.50" r="1.15" fill="#78788c" stroke="#4e4e5c" stroke-width="0.45"/>
<circle cx="156.20" cy="213.80" r="1.15" fill="#78788c" stroke="#4e4e5c" stroke-width="0.45"/>
<line x1="47.80" y1="225.50" x2="92.00" y2="225.50" stroke="#cccccc" stroke-width="0.6"/>
<line x1="112.80" y1="230.80" x2="157.40" y2="230.80" stroke="#cccccc" stroke-width="0.6"/>
<rect x="55.50" y="255.20" width="1.60" height="1.60" fill="#5a5a5a" stroke="none" stroke-width="0.6"/>
<rect x="57.80" y="255.20" width="1.60" height="1.60" fill="#5a5a5a" stroke="none" stroke-width="0.6"/>
<rect x="60.10" y="255.20" width="1.60" height="1.60" fill="#5a5a5a" stroke="none" stroke-width="0.6"/>
<rect x="71.80" y="255.20" width="1.60" height="1.60" fill="#5a5a5a" stroke="none" stroke-width="0.6"/>
<rect x="74.10" y="255.20" width="1.60" height="1.60" fill="#5a5a5a" stroke="none" stroke-width="0.6"/>
<rect x="76.40" y="255.20" width="1.60" height="1.60" fill="#5a5a5a" stroke="none" stroke-width="0.6"/>
<rect x="88.00" y="255.20" width="1.60" height="1.60" fill="#5a5a5a" stroke="none" stroke-width="0.6"/>
<rect x="90.30" y="255.20" width="1.60" height="1.60" fill="#5a5a5a" stroke="none" stroke-width="0.6"/>
<rect x="92.60" y="255.20" width="1.60" height="1.60" fill="#5a5a5a" stroke="none" stroke-width="0.6"/>
<rect x="120.60" y="255.30" width="1.60" height="1.60" fill="#5a5a5a" stroke="none" stroke-width="0.6"/>
<rect x="122.90" y="255.30" width="1.60" height="1.60" fill="#5a5a5a" stroke="none" stroke-width="0.6"/>
<rect x="125.20" y="255.30" width="1.60" height="1.60" fill="#5a5a5a" stroke="none" stroke-width="0.6"/>
<rect x="136.80" y="255.30" width="1.60" height="1.60" fill="#5a5a5a" stroke="none" stroke-width="0.6"/>
<rect x="139.10" y="255.30" width="1.60" height="1.60" fill="#5a5a5a" stroke="none" stroke-width="0.6"/>
<rect x="141.40" y="255.30" width="1.60" height="1.60" fill="#5a5a5a" stroke="none" stroke-width="0.6"/>
<rect x="153.10" y="255.30" width="1.60" height="1.60" fill="#5a5a5a" stroke="none" stroke-width="0.6"/>
<rect x="155.40" y="255.30" width="1.60" height="1.60" fill="#5a5a5a" stroke="none" stroke-width="0.6"/>
<rect x="157.70" y="255.30" width="1.60" height="1.60" fill="#5a5a5a" stroke="none" stroke-width="0.6"/>
<text x="156.20" y="251.40" font-size="4.6" font-weight="normal" fill="#5a5a5a" text-anchor="middle">$</text>
<line x1="32.10" y1="158.70" x2="32.10" y2="262.65" stroke="#000" stroke-width="1.5"/>
<line x1="31.35" y1="261.90" x2="168.10" y2="261.90" stroke="#000" stroke-width="1.5"/>
<line x1="28.10" y1="261.90" x2="32.10" y2="261.90" stroke="#000" stroke-width="1.2"/>
<text x="27.50" y="264.20" font-size="6.5" font-weight="bold" fill="#111111" text-anchor="end">0</text>
<line x1="28.10" y1="227.70" x2="32.10" y2="227.70" stroke="#000" stroke-width="1.2"/>
<text x="27.50" y="230.00" font-size="6.5" font-weight="bold" fill="#111111" text-anchor="end">20</text>
<line x1="28.10" y1="193.50" x2="32.10" y2="193.50" stroke="#000" stroke-width="1.2"/>
<text x="27.50" y="195.80" font-size="6.5" font-weight="bold" fill="#111111" text-anchor="end">40</text>
<line x1="28.10" y1="159.30" x2="32.10" y2="159.30" stroke="#000" stroke-width="1.2"/>
<text x="27.50" y="161.60" font-size="6.5" font-weight="bold" fill="#111111" text-anchor="end">60</text>
<line x1="42.70" y1="261.90" x2="42.70" y2="263.90" stroke="#000" stroke-width="0.9"/>
<text x="42.70" y="270.40" font-size="6.5" font-weight="bold" fill="#111111" text-anchor="middle">NSC</text>
<line x1="58.90" y1="261.90" x2="58.90" y2="263.90" stroke="#000" stroke-width="0.9"/>
<text x="58.90" y="270.40" font-size="6.5" font-weight="bold" fill="#111111" text-anchor="middle">BP</text>
<line x1="75.20" y1="261.90" x2="75.20" y2="263.90" stroke="#000" stroke-width="0.9"/>
<text x="75.20" y="270.40" font-size="6.5" font-weight="bold" fill="#111111" text-anchor="middle">ABP</text>
<line x1="91.40" y1="261.90" x2="91.40" y2="263.90" stroke="#000" stroke-width="0.9"/>
<text x="91.40" y="270.40" font-size="6.5" font-weight="bold" fill="#111111" text-anchor="middle">SBI</text>
<line x1="107.70" y1="261.90" x2="107.70" y2="263.90" stroke="#000" stroke-width="0.9"/>
<text x="107.70" y="270.40" font-size="6.5" font-weight="bold" fill="#111111" text-anchor="middle">NSC</text>
<line x1="124.00" y1="261.90" x2="124.00" y2="263.90" stroke="#000" stroke-width="0.9"/>
<text x="124.00" y="270.40" font-size="6.5" font-weight="bold" fill="#111111" text-anchor="middle">BP</text>
<line x1="140.20" y1="261.90" x2="140.20" y2="263.90" stroke="#000" stroke-width="0.9"/>
<text x="140.20" y="270.40" font-size="6.5" font-weight="bold" fill="#111111" text-anchor="middle">ABP</text>
<line x1="156.50" y1="261.90" x2="156.50" y2="263.90" stroke="#000" stroke-width="0.9"/>
<text x="156.50" y="270.40" font-size="6.5" font-weight="bold" fill="#111111" text-anchor="middle">SBI</text>
<line x1="98.80" y1="262.40" x2="98.80" y2="282.90" stroke="#000" stroke-width="1.25"/>
<text x="66.30" y="280.00" font-size="7.1" font-weight="bold" fill="#111111" text-anchor="middle">Non-dialyzed</text>
<text x="123.90" y="280.00" font-size="7.1" font-weight="bold" fill="#111111" text-anchor="middle">Dialyzed</text>
<text transform="translate(15.90,209.70) rotate(-90)" x="0" y="0" font-size="7" font-weight="bold" fill="#1a1a1a" text-anchor="middle">Total SCFA (mM)</text>
<text x="188.20" y="153.50" font-size="11" font-weight="bold" fill="#111111" text-anchor="start" letter-spacing="0.1">E.</text>
<line x1="229.60" y1="214.40" x2="229.60" y2="216.50" stroke="#5e5e5e" stroke-width="0.7"/>
<line x1="229.60" y1="223.40" x2="229.60" y2="225.90" stroke="#5e5e5e" stroke-width="0.7"/>
<line x1="227.00" y1="214.40" x2="232.20" y2="214.40" stroke="#5e5e5e" stroke-width="0.75"/>
<line x1="227.00" y1="225.90" x2="232.20" y2="225.90" stroke="#5e5e5e" stroke-width="0.75"/>
<rect x="224.30" y="216.50" width="10.60" height="6.90" fill="#ffffff" stroke="#6a6a6a" stroke-width="0.65"/>
<line x1="224.30" y1="220.50" x2="234.90" y2="220.50" stroke="#333333" stroke-width="0.8"/>
<circle cx="229.60" cy="214.40" r="1.15" fill="#78788c" stroke="#4e4e5c" stroke-width="0.45"/>
<circle cx="228.30" cy="219.00" r="1.15" fill="#78788c" stroke="#4e4e5c" stroke-width="0.45"/>
<circle cx="230.90" cy="221.00" r="1.15" fill="#78788c" stroke="#4e4e5c" stroke-width="0.45"/>
<circle cx="229.60" cy="223.00" r="1.15" fill="#78788c" stroke="#4e4e5c" stroke-width="0.45"/>
<circle cx="229.60" cy="225.90" r="1.15" fill="#78788c" stroke="#4e4e5c" stroke-width="0.45"/>
<line x1="245.80" y1="169.60" x2="245.80" y2="174.00" stroke="#5e5e5e" stroke-width="0.7"/>
<line x1="245.80" y1="190.10" x2="245.80" y2="190.50" stroke="#5e5e5e" stroke-width="0.7"/>
<line x1="243.20" y1="169.60" x2="248.40" y2="169.60" stroke="#5e5e5e" stroke-width="0.75"/>
<line x1="243.20" y1="190.50" x2="248.40" y2="190.50" stroke="#5e5e5e" stroke-width="0.75"/>
<rect x="240.50" y="174.00" width="10.60" height="16.10" fill="#fde725" stroke="#9c8d10" stroke-width="0.65"/>
<line x1="240.50" y1="179.30" x2="251.10" y2="179.30" stroke="#3a3510" stroke-width="0.8"/>
<circle cx="245.80" cy="169.60" r="1.15" fill="#78788c" stroke="#4e4e5c" stroke-width="0.45"/>
<circle cx="244.50" cy="176.00" r="1.15" fill="#78788c" stroke="#4e4e5c" stroke-width="0.45"/>
<circle cx="247.10" cy="177.00" r="1.15" fill="#78788c" stroke="#4e4e5c" stroke-width="0.45"/>
<circle cx="245.80" cy="183.00" r="1.15" fill="#78788c" stroke="#4e4e5c" stroke-width="0.45"/>
<circle cx="246.90" cy="189.50" r="1.15" fill="#78788c" stroke="#4e4e5c" stroke-width="0.45"/>
<circle cx="245.80" cy="190.00" r="1.15" fill="#78788c" stroke="#4e4e5c" stroke-width="0.45"/>
<line x1="262.10" y1="170.70" x2="262.10" y2="175.30" stroke="#5e5e5e" stroke-width="0.7"/>
<line x1="262.10" y1="184.70" x2="262.10" y2="198.70" stroke="#5e5e5e" stroke-width="0.7"/>
<line x1="259.50" y1="170.70" x2="264.70" y2="170.70" stroke="#5e5e5e" stroke-width="0.75"/>
<line x1="259.50" y1="198.70" x2="264.70" y2="198.70" stroke="#5e5e5e" stroke-width="0.75"/>
<rect x="256.80" y="175.30" width="10.60" height="9.40" fill="#33b679" stroke="#1f7d52" stroke-width="0.65"/>
<line x1="256.80" y1="178.50" x2="267.40" y2="178.50" stroke="#123a26" stroke-width="0.8"/>
<circle cx="262.10" cy="170.70" r="1.15" fill="#78788c" stroke="#4e4e5c" stroke-width="0.45"/>
<circle cx="260.80" cy="177.50" r="1.15" fill="#78788c" stroke="#4e4e5c" stroke-width="0.45"/>
<circle cx="263.40" cy="178.00" r="1.15" fill="#78788c" stroke="#4e4e5c" stroke-width="0.45"/>
<circle cx="262.10" cy="179.00" r="1.15" fill="#78788c" stroke="#4e4e5c" stroke-width="0.45"/>
<circle cx="262.10" cy="198.70" r="1.15" fill="#78788c" stroke="#4e4e5c" stroke-width="0.45"/>
<line x1="278.30" y1="174.50" x2="278.30" y2="175.70" stroke="#5e5e5e" stroke-width="0.7"/>
<line x1="278.30" y1="187.20" x2="278.30" y2="202.30" stroke="#5e5e5e" stroke-width="0.7"/>
<line x1="275.70" y1="174.50" x2="280.90" y2="174.50" stroke="#5e5e5e" stroke-width="0.75"/>
<line x1="275.70" y1="202.30" x2="280.90" y2="202.30" stroke="#5e5e5e" stroke-width="0.75"/>
<rect x="273.00" y="175.70" width="10.60" height="11.50" fill="#33449a" stroke="#1d2b6e" stroke-width="0.65"/>
<line x1="273.00" y1="177.30" x2="283.60" y2="177.30" stroke="#0f1738" stroke-width="0.8"/>
<circle cx="278.30" cy="174.50" r="1.15" fill="#78788c" stroke="#4e4e5c" stroke-width="0.45"/>
<circle cx="277.00" cy="176.00" r="1.15" fill="#78788c" stroke="#4e4e5c" stroke-width="0.45"/>
<circle cx="279.60" cy="180.00" r="1.15" fill="#78788c" stroke="#4e4e5c" stroke-width="0.45"/>
<circle cx="278.30" cy="184.00" r="1.15" fill="#78788c" stroke="#4e4e5c" stroke-width="0.45"/>
<circle cx="278.30" cy="202.30" r="1.15" fill="#78788c" stroke="#4e4e5c" stroke-width="0.45"/>
<line x1="294.60" y1="221.70" x2="294.60" y2="225.10" stroke="#5e5e5e" stroke-width="0.7"/>
<line x1="294.60" y1="230.20" x2="294.60" y2="231.00" stroke="#5e5e5e" stroke-width="0.7"/>
<line x1="292.00" y1="221.70" x2="297.20" y2="221.70" stroke="#5e5e5e" stroke-width="0.75"/>
<line x1="292.00" y1="231.00" x2="297.20" y2="231.00" stroke="#5e5e5e" stroke-width="0.75"/>
<rect x="289.30" y="225.10" width="10.60" height="5.10" fill="#dcdcdc" stroke="#7a7a7a" stroke-width="0.65"/>
<line x1="289.30" y1="228.30" x2="299.90" y2="228.30" stroke="#555555" stroke-width="0.8"/>
<circle cx="294.60" cy="221.70" r="1.15" fill="#78788c" stroke="#4e4e5c" stroke-width="0.45"/>
<circle cx="293.30" cy="226.00" r="1.15" fill="#78788c" stroke="#4e4e5c" stroke-width="0.45"/>
<circle cx="295.90" cy="228.50" r="1.15" fill="#78788c" stroke="#4e4e5c" stroke-width="0.45"/>
<circle cx="294.60" cy="230.00" r="1.15" fill="#78788c" stroke="#4e4e5c" stroke-width="0.45"/>
<line x1="310.90" y1="201.00" x2="310.90" y2="205.70" stroke="#5e5e5e" stroke-width="0.7"/>
<line x1="310.90" y1="211.40" x2="310.90" y2="216.50" stroke="#5e5e5e" stroke-width="0.7"/>
<line x1="308.30" y1="201.00" x2="313.50" y2="201.00" stroke="#5e5e5e" stroke-width="0.75"/>
<line x1="308.30" y1="216.50" x2="313.50" y2="216.50" stroke="#5e5e5e" stroke-width="0.75"/>
<rect x="305.60" y="205.70" width="10.60" height="5.70" fill="#f8ef88" stroke="#aca24a" stroke-width="0.65"/>
<line x1="305.60" y1="208.50" x2="316.20" y2="208.50" stroke="#8a8240" stroke-width="0.8"/>
<circle cx="310.90" cy="201.00" r="1.15" fill="#78788c" stroke="#4e4e5c" stroke-width="0.45"/>
<circle cx="309.60" cy="207.50" r="1.15" fill="#78788c" stroke="#4e4e5c" stroke-width="0.45"/>
<circle cx="312.20" cy="209.00" r="1.15" fill="#78788c" stroke="#4e4e5c" stroke-width="0.45"/>
<circle cx="310.90" cy="210.00" r="1.15" fill="#78788c" stroke="#4e4e5c" stroke-width="0.45"/>
<circle cx="310.90" cy="216.50" r="1.15" fill="#78788c" stroke="#4e4e5c" stroke-width="0.45"/>
<line x1="327.10" y1="203.80" x2="327.10" y2="210.40" stroke="#5e5e5e" stroke-width="0.7"/>
<line x1="327.10" y1="216.50" x2="327.10" y2="224.90" stroke="#5e5e5e" stroke-width="0.7"/>
<line x1="324.50" y1="203.80" x2="329.70" y2="203.80" stroke="#5e5e5e" stroke-width="0.75"/>
<line x1="324.50" y1="224.90" x2="329.70" y2="224.90" stroke="#5e5e5e" stroke-width="0.75"/>
<rect x="321.80" y="210.40" width="10.60" height="6.10" fill="#66cf9c" stroke="#3a9a6c" stroke-width="0.65"/>
<line x1="321.80" y1="213.50" x2="332.40" y2="213.50" stroke="#2a6e4e" stroke-width="0.8"/>
<circle cx="327.10" cy="203.80" r="1.15" fill="#78788c" stroke="#4e4e5c" stroke-width="0.45"/>
<circle cx="325.80" cy="212.50" r="1.15" fill="#78788c" stroke="#4e4e5c" stroke-width="0.45"/>
<circle cx="328.40" cy="213.50" r="1.15" fill="#78788c" stroke="#4e4e5c" stroke-width="0.45"/>
<circle cx="327.10" cy="214.50" r="1.15" fill="#78788c" stroke="#4e4e5c" stroke-width="0.45"/>
<circle cx="327.10" cy="224.90" r="1.15" fill="#78788c" stroke="#4e4e5c" stroke-width="0.45"/>
<line x1="343.40" y1="194.80" x2="343.40" y2="197.20" stroke="#5e5e5e" stroke-width="0.7"/>
<line x1="343.40" y1="205.70" x2="343.40" y2="210.00" stroke="#5e5e5e" stroke-width="0.7"/>
<line x1="340.80" y1="194.80" x2="346.00" y2="194.80" stroke="#5e5e5e" stroke-width="0.75"/>
<line x1="340.80" y1="210.00" x2="346.00" y2="210.00" stroke="#5e5e5e" stroke-width="0.75"/>
<rect x="338.10" y="197.20" width="10.60" height="8.50" fill="#6b77bc" stroke="#434f9a" stroke-width="0.65"/>
<line x1="338.10" y1="201.50" x2="348.70" y2="201.50" stroke="#2c3670" stroke-width="0.8"/>
<circle cx="343.40" cy="194.80" r="1.15" fill="#78788c" stroke="#4e4e5c" stroke-width="0.45"/>
<circle cx="342.10" cy="199.00" r="1.15" fill="#78788c" stroke="#4e4e5c" stroke-width="0.45"/>
<circle cx="344.70" cy="201.00" r="1.15" fill="#78788c" stroke="#4e4e5c" stroke-width="0.45"/>
<circle cx="343.40" cy="203.00" r="1.15" fill="#78788c" stroke="#4e4e5c" stroke-width="0.45"/>
<circle cx="343.40" cy="210.00" r="1.15" fill="#78788c" stroke="#4e4e5c" stroke-width="0.45"/>
<line x1="235.30" y1="220.50" x2="278.30" y2="220.50" stroke="#c2c2c2" stroke-width="0.6"/>
<line x1="300.10" y1="228.30" x2="344.00" y2="228.30" stroke="#c2c2c2" stroke-width="0.6"/>
<rect x="242.70" y="255.20" width="1.60" height="1.60" fill="#5a5a5a" stroke="none" stroke-width="0.6"/>
<rect x="245.00" y="255.20" width="1.60" height="1.60" fill="#5a5a5a" stroke="none" stroke-width="0.6"/>
<rect x="247.30" y="255.20" width="1.60" height="1.60" fill="#5a5a5a" stroke="none" stroke-width="0.6"/>
<rect x="259.00" y="255.20" width="1.60" height="1.60" fill="#5a5a5a" stroke="none" stroke-width="0.6"/>
<rect x="261.30" y="255.20" width="1.60" height="1.60" fill="#5a5a5a" stroke="none" stroke-width="0.6"/>
<rect x="263.60" y="255.20" width="1.60" height="1.60" fill="#5a5a5a" stroke="none" stroke-width="0.6"/>
<rect x="275.20" y="255.20" width="1.60" height="1.60" fill="#5a5a5a" stroke="none" stroke-width="0.6"/>
<rect x="277.50" y="255.20" width="1.60" height="1.60" fill="#5a5a5a" stroke="none" stroke-width="0.6"/>
<rect x="279.80" y="255.20" width="1.60" height="1.60" fill="#5a5a5a" stroke="none" stroke-width="0.6"/>
<rect x="307.80" y="255.30" width="1.60" height="1.60" fill="#5a5a5a" stroke="none" stroke-width="0.6"/>
<rect x="310.10" y="255.30" width="1.60" height="1.60" fill="#5a5a5a" stroke="none" stroke-width="0.6"/>
<rect x="312.40" y="255.30" width="1.60" height="1.60" fill="#5a5a5a" stroke="none" stroke-width="0.6"/>
<rect x="325.15" y="255.30" width="1.60" height="1.60" fill="#5a5a5a" stroke="none" stroke-width="0.6"/>
<rect x="327.45" y="255.30" width="1.60" height="1.60" fill="#5a5a5a" stroke="none" stroke-width="0.6"/>
<rect x="340.30" y="255.30" width="1.60" height="1.60" fill="#5a5a5a" stroke="none" stroke-width="0.6"/>
<rect x="342.60" y="255.30" width="1.60" height="1.60" fill="#5a5a5a" stroke="none" stroke-width="0.6"/>
<rect x="344.90" y="255.30" width="1.60" height="1.60" fill="#5a5a5a" stroke="none" stroke-width="0.6"/>
<text x="343.40" y="251.40" font-size="4.6" font-weight="normal" fill="#5a5a5a" text-anchor="middle">$$</text>
<line x1="219.00" y1="158.70" x2="219.00" y2="262.85" stroke="#000" stroke-width="1.5"/>
<line x1="218.25" y1="262.10" x2="355.00" y2="262.10" stroke="#000" stroke-width="1.5"/>
<line x1="215.00" y1="262.10" x2="219.00" y2="262.10" stroke="#000" stroke-width="1.2"/>
<text x="214.40" y="264.40" font-size="6.5" font-weight="bold" fill="#111111" text-anchor="end">0</text>
<line x1="215.00" y1="227.83" x2="219.00" y2="227.83" stroke="#000" stroke-width="1.2"/>
<text x="214.40" y="230.13" font-size="6.5" font-weight="bold" fill="#111111" text-anchor="end">10</text>
<line x1="215.00" y1="193.57" x2="219.00" y2="193.57" stroke="#000" stroke-width="1.2"/>
<text x="214.40" y="195.87" font-size="6.5" font-weight="bold" fill="#111111" text-anchor="end">20</text>
<line x1="215.00" y1="159.30" x2="219.00" y2="159.30" stroke="#000" stroke-width="1.2"/>
<text x="214.40" y="161.60" font-size="6.5" font-weight="bold" fill="#111111" text-anchor="end">30</text>
<line x1="229.60" y1="262.10" x2="229.60" y2="264.10" stroke="#000" stroke-width="0.9"/>
<text x="229.60" y="270.60" font-size="6.5" font-weight="bold" fill="#111111" text-anchor="middle">NSC</text>
<line x1="245.80" y1="262.10" x2="245.80" y2="264.10" stroke="#000" stroke-width="0.9"/>
<text x="245.80" y="270.60" font-size="6.5" font-weight="bold" fill="#111111" text-anchor="middle">BP</text>
<line x1="262.10" y1="262.10" x2="262.10" y2="264.10" stroke="#000" stroke-width="0.9"/>
<text x="262.10" y="270.60" font-size="6.5" font-weight="bold" fill="#111111" text-anchor="middle">ABP</text>
<line x1="278.30" y1="262.10" x2="278.30" y2="264.10" stroke="#000" stroke-width="0.9"/>
<text x="278.30" y="270.60" font-size="6.5" font-weight="bold" fill="#111111" text-anchor="middle">SBI</text>
<line x1="294.60" y1="262.10" x2="294.60" y2="264.10" stroke="#000" stroke-width="0.9"/>
<text x="294.60" y="270.60" font-size="6.5" font-weight="bold" fill="#111111" text-anchor="middle">NSC</text>
<line x1="310.90" y1="262.10" x2="310.90" y2="264.10" stroke="#000" stroke-width="0.9"/>
<text x="310.90" y="270.60" font-size="6.5" font-weight="bold" fill="#111111" text-anchor="middle">BP</text>
<line x1="327.10" y1="262.10" x2="327.10" y2="264.10" stroke="#000" stroke-width="0.9"/>
<text x="327.10" y="270.60" font-size="6.5" font-weight="bold" fill="#111111" text-anchor="middle">ABP</text>
<line x1="343.40" y1="262.10" x2="343.40" y2="264.10" stroke="#000" stroke-width="0.9"/>
<text x="343.40" y="270.60" font-size="6.5" font-weight="bold" fill="#111111" text-anchor="middle">SBI</text>
<line x1="285.70" y1="262.60" x2="285.70" y2="283.10" stroke="#000" stroke-width="1.25"/>
<text x="253.20" y="280.20" font-size="7.1" font-weight="bold" fill="#111111" text-anchor="middle">Non-dialyzed</text>
<text x="310.80" y="280.20" font-size="7.1" font-weight="bold" fill="#111111" text-anchor="middle">Dialyzed</text>
<text transform="translate(201.50,210.90) rotate(-90)" x="0" y="0" font-size="7" font-weight="bold" fill="#1a1a1a" text-anchor="middle">Acetate (mM)</text>
<text x="367.50" y="160.00" font-size="11" font-weight="bold" fill="#111111" text-anchor="start" letter-spacing="0.1">F.</text>
<line x1="416.20" y1="233.00" x2="416.20" y2="236.30" stroke="#5e5e5e" stroke-width="0.7"/>
<line x1="416.20" y1="242.20" x2="416.20" y2="242.20" stroke="#5e5e5e" stroke-width="0.7"/>
<line x1="413.60" y1="233.00" x2="418.80" y2="233.00" stroke="#5e5e5e" stroke-width="0.75"/>
<line x1="413.60" y1="242.20" x2="418.80" y2="242.20" stroke="#5e5e5e" stroke-width="0.75"/>
<rect x="410.90" y="236.30" width="10.60" height="5.90" fill="#ffffff" stroke="#6a6a6a" stroke-width="0.65"/>
<line x1="410.90" y1="239.30" x2="421.50" y2="239.30" stroke="#333333" stroke-width="0.8"/>
<circle cx="416.20" cy="233.00" r="1.15" fill="#78788c" stroke="#4e4e5c" stroke-width="0.45"/>
<circle cx="414.90" cy="237.50" r="1.15" fill="#78788c" stroke="#4e4e5c" stroke-width="0.45"/>
<circle cx="417.50" cy="239.50" r="1.15" fill="#78788c" stroke="#4e4e5c" stroke-width="0.45"/>
<circle cx="416.20" cy="241.00" r="1.15" fill="#78788c" stroke="#4e4e5c" stroke-width="0.45"/>
<circle cx="416.20" cy="242.00" r="1.15" fill="#78788c" stroke="#4e4e5c" stroke-width="0.45"/>
<line x1="432.40" y1="187.90" x2="432.40" y2="193.10" stroke="#5e5e5e" stroke-width="0.7"/>
<line x1="432.40" y1="214.50" x2="432.40" y2="217.50" stroke="#5e5e5e" stroke-width="0.7"/>
<line x1="429.80" y1="187.90" x2="435.00" y2="187.90" stroke="#5e5e5e" stroke-width="0.75"/>
<line x1="429.80" y1="217.50" x2="435.00" y2="217.50" stroke="#5e5e5e" stroke-width="0.75"/>
<rect x="427.10" y="193.10" width="10.60" height="21.40" fill="#fde725" stroke="#9c8d10" stroke-width="0.65"/>
<line x1="427.10" y1="199.40" x2="437.70" y2="199.40" stroke="#3a3510" stroke-width="0.8"/>
<circle cx="432.40" cy="187.90" r="1.15" fill="#78788c" stroke="#4e4e5c" stroke-width="0.45"/>
<circle cx="431.10" cy="193.50" r="1.15" fill="#78788c" stroke="#4e4e5c" stroke-width="0.45"/>
<circle cx="433.70" cy="198.00" r="1.15" fill="#78788c" stroke="#4e4e5c" stroke-width="0.45"/>
<circle cx="432.40" cy="199.50" r="1.15" fill="#78788c" stroke="#4e4e5c" stroke-width="0.45"/>
<circle cx="433.50" cy="214.50" r="1.15" fill="#78788c" stroke="#4e4e5c" stroke-width="0.45"/>
<circle cx="432.40" cy="217.50" r="1.15" fill="#78788c" stroke="#4e4e5c" stroke-width="0.45"/>
<line x1="448.70" y1="196.40" x2="448.70" y2="198.10" stroke="#5e5e5e" stroke-width="0.7"/>
<line x1="448.70" y1="218.20" x2="448.70" y2="223.60" stroke="#5e5e5e" stroke-width="0.7"/>
<line x1="446.10" y1="196.40" x2="451.30" y2="196.40" stroke="#5e5e5e" stroke-width="0.75"/>
<line x1="446.10" y1="223.60" x2="451.30" y2="223.60" stroke="#5e5e5e" stroke-width="0.75"/>
<rect x="443.40" y="198.10" width="10.60" height="20.10" fill="#33b679" stroke="#1f7d52" stroke-width="0.65"/>
<line x1="443.40" y1="206.30" x2="454.00" y2="206.30" stroke="#123a26" stroke-width="0.8"/>
<circle cx="448.70" cy="196.40" r="1.15" fill="#78788c" stroke="#4e4e5c" stroke-width="0.45"/>
<circle cx="447.40" cy="198.50" r="1.15" fill="#78788c" stroke="#4e4e5c" stroke-width="0.45"/>
<circle cx="450.00" cy="212.00" r="1.15" fill="#78788c" stroke="#4e4e5c" stroke-width="0.45"/>
<circle cx="448.70" cy="215.00" r="1.15" fill="#78788c" stroke="#4e4e5c" stroke-width="0.45"/>
<circle cx="448.70" cy="223.60" r="1.15" fill="#78788c" stroke="#4e4e5c" stroke-width="0.45"/>
<line x1="464.90" y1="189.80" x2="464.90" y2="190.70" stroke="#5e5e5e" stroke-width="0.7"/>
<line x1="464.90" y1="211.60" x2="464.90" y2="217.80" stroke="#5e5e5e" stroke-width="0.7"/>
<line x1="462.30" y1="189.80" x2="467.50" y2="189.80" stroke="#5e5e5e" stroke-width="0.75"/>
<line x1="462.30" y1="217.80" x2="467.50" y2="217.80" stroke="#5e5e5e" stroke-width="0.75"/>
<rect x="459.60" y="190.70" width="10.60" height="20.90" fill="#33449a" stroke="#1d2b6e" stroke-width="0.65"/>
<line x1="459.60" y1="202.20" x2="470.20" y2="202.20" stroke="#0f1738" stroke-width="0.8"/>
<circle cx="464.90" cy="189.80" r="1.15" fill="#78788c" stroke="#4e4e5c" stroke-width="0.45"/>
<circle cx="463.60" cy="200.50" r="1.15" fill="#78788c" stroke="#4e4e5c" stroke-width="0.45"/>
<circle cx="466.20" cy="204.00" r="1.15" fill="#78788c" stroke="#4e4e5c" stroke-width="0.45"/>
<circle cx="464.90" cy="208.00" r="1.15" fill="#78788c" stroke="#4e4e5c" stroke-width="0.45"/>
<circle cx="464.90" cy="217.80" r="1.15" fill="#78788c" stroke="#4e4e5c" stroke-width="0.45"/>
<line x1="481.20" y1="238.40" x2="481.20" y2="239.40" stroke="#5e5e5e" stroke-width="0.7"/>
<line x1="481.20" y1="245.60" x2="481.20" y2="245.80" stroke="#5e5e5e" stroke-width="0.7"/>
<line x1="478.60" y1="238.40" x2="483.80" y2="238.40" stroke="#5e5e5e" stroke-width="0.75"/>
<line x1="478.60" y1="245.80" x2="483.80" y2="245.80" stroke="#5e5e5e" stroke-width="0.75"/>
<rect x="475.90" y="239.40" width="10.60" height="6.20" fill="#dcdcdc" stroke="#7a7a7a" stroke-width="0.65"/>
<line x1="475.90" y1="242.40" x2="486.50" y2="242.40" stroke="#555555" stroke-width="0.8"/>
<circle cx="481.20" cy="239.00" r="1.15" fill="#78788c" stroke="#4e4e5c" stroke-width="0.45"/>
<circle cx="479.90" cy="241.50" r="1.15" fill="#78788c" stroke="#4e4e5c" stroke-width="0.45"/>
<circle cx="482.50" cy="243.50" r="1.15" fill="#78788c" stroke="#4e4e5c" stroke-width="0.45"/>
<circle cx="481.20" cy="245.00" r="1.15" fill="#78788c" stroke="#4e4e5c" stroke-width="0.45"/>
<line x1="497.50" y1="219.60" x2="497.50" y2="222.30" stroke="#5e5e5e" stroke-width="0.7"/>
<line x1="497.50" y1="234.10" x2="497.50" y2="235.50" stroke="#5e5e5e" stroke-width="0.7"/>
<line x1="494.90" y1="219.60" x2="500.10" y2="219.60" stroke="#5e5e5e" stroke-width="0.75"/>
<line x1="494.90" y1="235.50" x2="500.10" y2="235.50" stroke="#5e5e5e" stroke-width="0.75"/>
<rect x="492.20" y="222.30" width="10.60" height="11.80" fill="#f8ef88" stroke="#aca24a" stroke-width="0.65"/>
<line x1="492.20" y1="226.20" x2="502.80" y2="226.20" stroke="#8a8240" stroke-width="0.8"/>
<circle cx="497.50" cy="219.60" r="1.15" fill="#78788c" stroke="#4e4e5c" stroke-width="0.45"/>
<circle cx="496.20" cy="224.50" r="1.15" fill="#78788c" stroke="#4e4e5c" stroke-width="0.45"/>
<circle cx="498.80" cy="227.00" r="1.15" fill="#78788c" stroke="#4e4e5c" stroke-width="0.45"/>
<circle cx="497.50" cy="233.50" r="1.15" fill="#78788c" stroke="#4e4e5c" stroke-width="0.45"/>
<circle cx="497.50" cy="235.50" r="1.15" fill="#78788c" stroke="#4e4e5c" stroke-width="0.45"/>
<line x1="513.70" y1="222.30" x2="513.70" y2="225.30" stroke="#5e5e5e" stroke-width="0.7"/>
<line x1="513.70" y1="236.20" x2="513.70" y2="238.50" stroke="#5e5e5e" stroke-width="0.7"/>
<line x1="511.10" y1="222.30" x2="516.30" y2="222.30" stroke="#5e5e5e" stroke-width="0.75"/>
<line x1="511.10" y1="238.50" x2="516.30" y2="238.50" stroke="#5e5e5e" stroke-width="0.75"/>
<rect x="508.40" y="225.30" width="10.60" height="10.90" fill="#66cf9c" stroke="#3a9a6c" stroke-width="0.65"/>
<line x1="508.40" y1="230.60" x2="519.00" y2="230.60" stroke="#2a6e4e" stroke-width="0.8"/>
<circle cx="513.70" cy="222.30" r="1.15" fill="#78788c" stroke="#4e4e5c" stroke-width="0.45"/>
<circle cx="512.40" cy="229.50" r="1.15" fill="#78788c" stroke="#4e4e5c" stroke-width="0.45"/>
<circle cx="515.00" cy="231.00" r="1.15" fill="#78788c" stroke="#4e4e5c" stroke-width="0.45"/>
<circle cx="513.70" cy="235.00" r="1.15" fill="#78788c" stroke="#4e4e5c" stroke-width="0.45"/>
<circle cx="513.70" cy="238.50" r="1.15" fill="#78788c" stroke="#4e4e5c" stroke-width="0.45"/>
<line x1="530.00" y1="217.30" x2="530.00" y2="217.70" stroke="#5e5e5e" stroke-width="0.7"/>
<line x1="530.00" y1="231.40" x2="530.00" y2="231.40" stroke="#5e5e5e" stroke-width="0.7"/>
<line x1="527.40" y1="217.30" x2="532.60" y2="217.30" stroke="#5e5e5e" stroke-width="0.75"/>
<line x1="527.40" y1="231.40" x2="532.60" y2="231.40" stroke="#5e5e5e" stroke-width="0.75"/>
<rect x="524.70" y="217.70" width="10.60" height="13.70" fill="#6b77bc" stroke="#434f9a" stroke-width="0.65"/>
<line x1="524.70" y1="222.00" x2="535.30" y2="222.00" stroke="#2c3670" stroke-width="0.8"/>
<circle cx="530.00" cy="217.30" r="1.15" fill="#78788c" stroke="#4e4e5c" stroke-width="0.45"/>
<circle cx="528.70" cy="218.50" r="1.15" fill="#78788c" stroke="#4e4e5c" stroke-width="0.45"/>
<circle cx="531.30" cy="231.00" r="1.15" fill="#78788c" stroke="#4e4e5c" stroke-width="0.45"/>
<circle cx="530.00" cy="230.50" r="1.15" fill="#78788c" stroke="#4e4e5c" stroke-width="0.45"/>
<line x1="421.60" y1="239.30" x2="465.10" y2="239.30" stroke="#c6c6c6" stroke-width="0.6"/>
<line x1="486.60" y1="242.40" x2="530.90" y2="242.40" stroke="#c6c6c6" stroke-width="0.6"/>
<rect x="429.30" y="255.20" width="1.60" height="1.60" fill="#5a5a5a" stroke="none" stroke-width="0.6"/>
<rect x="431.60" y="255.20" width="1.60" height="1.60" fill="#5a5a5a" stroke="none" stroke-width="0.6"/>
<rect x="433.90" y="255.20" width="1.60" height="1.60" fill="#5a5a5a" stroke="none" stroke-width="0.6"/>
<rect x="445.60" y="255.20" width="1.60" height="1.60" fill="#5a5a5a" stroke="none" stroke-width="0.6"/>
<rect x="447.90" y="255.20" width="1.60" height="1.60" fill="#5a5a5a" stroke="none" stroke-width="0.6"/>
<rect x="450.20" y="255.20" width="1.60" height="1.60" fill="#5a5a5a" stroke="none" stroke-width="0.6"/>
<rect x="461.80" y="255.20" width="1.60" height="1.60" fill="#5a5a5a" stroke="none" stroke-width="0.6"/>
<rect x="464.10" y="255.20" width="1.60" height="1.60" fill="#5a5a5a" stroke="none" stroke-width="0.6"/>
<rect x="466.40" y="255.20" width="1.60" height="1.60" fill="#5a5a5a" stroke="none" stroke-width="0.6"/>
<rect x="494.40" y="255.30" width="1.60" height="1.60" fill="#5a5a5a" stroke="none" stroke-width="0.6"/>
<rect x="496.70" y="255.30" width="1.60" height="1.60" fill="#5a5a5a" stroke="none" stroke-width="0.6"/>
<rect x="499.00" y="255.30" width="1.60" height="1.60" fill="#5a5a5a" stroke="none" stroke-width="0.6"/>
<rect x="510.60" y="255.30" width="1.60" height="1.60" fill="#5a5a5a" stroke="none" stroke-width="0.6"/>
<rect x="512.90" y="255.30" width="1.60" height="1.60" fill="#5a5a5a" stroke="none" stroke-width="0.6"/>
<rect x="515.20" y="255.30" width="1.60" height="1.60" fill="#5a5a5a" stroke="none" stroke-width="0.6"/>
<rect x="526.90" y="255.30" width="1.60" height="1.60" fill="#5a5a5a" stroke="none" stroke-width="0.6"/>
<rect x="529.20" y="255.30" width="1.60" height="1.60" fill="#5a5a5a" stroke="none" stroke-width="0.6"/>
<rect x="531.50" y="255.30" width="1.60" height="1.60" fill="#5a5a5a" stroke="none" stroke-width="0.6"/>
<text x="513.70" y="251.40" font-size="4.6" font-weight="normal" fill="#5a5a5a" text-anchor="middle">$$</text>
<text x="530.00" y="251.40" font-size="4.6" font-weight="normal" fill="#5a5a5a" text-anchor="middle">$$</text>
<line x1="405.60" y1="158.70" x2="405.60" y2="262.35" stroke="#000" stroke-width="1.5"/>
<line x1="404.85" y1="261.60" x2="541.60" y2="261.60" stroke="#000" stroke-width="1.5"/>
<line x1="401.60" y1="261.60" x2="405.60" y2="261.60" stroke="#000" stroke-width="1.2"/>
<text x="401.00" y="263.90" font-size="6.5" font-weight="bold" fill="#111111" text-anchor="end">0</text>
<line x1="401.60" y1="236.03" x2="405.60" y2="236.03" stroke="#000" stroke-width="1.2"/>
<text x="401.00" y="238.33" font-size="6.5" font-weight="bold" fill="#111111" text-anchor="end">5</text>
<line x1="401.60" y1="210.45" x2="405.60" y2="210.45" stroke="#000" stroke-width="1.2"/>
<text x="401.00" y="212.75" font-size="6.5" font-weight="bold" fill="#111111" text-anchor="end">10</text>
<line x1="401.60" y1="184.88" x2="405.60" y2="184.88" stroke="#000" stroke-width="1.2"/>
<text x="401.00" y="187.18" font-size="6.5" font-weight="bold" fill="#111111" text-anchor="end">15</text>
<line x1="401.60" y1="159.30" x2="405.60" y2="159.30" stroke="#000" stroke-width="1.2"/>
<text x="401.00" y="161.60" font-size="6.5" font-weight="bold" fill="#111111" text-anchor="end">20</text>
<line x1="416.20" y1="261.60" x2="416.20" y2="263.60" stroke="#000" stroke-width="0.9"/>
<text x="416.20" y="270.10" font-size="6.5" font-weight="bold" fill="#111111" text-anchor="middle">NSC</text>
<line x1="432.40" y1="261.60" x2="432.40" y2="263.60" stroke="#000" stroke-width="0.9"/>
<text x="432.40" y="270.10" font-size="6.5" font-weight="bold" fill="#111111" text-anchor="middle">BP</text>
<line x1="448.70" y1="261.60" x2="448.70" y2="263.60" stroke="#000" stroke-width="0.9"/>
<text x="448.70" y="270.10" font-size="6.5" font-weight="bold" fill="#111111" text-anchor="middle">ABP</text>
<line x1="464.90" y1="261.60" x2="464.90" y2="263.60" stroke="#000" stroke-width="0.9"/>
<text x="464.90" y="270.10" font-size="6.5" font-weight="bold" fill="#111111" text-anchor="middle">SBI</text>
<line x1="481.20" y1="261.60" x2="481.20" y2="263.60" stroke="#000" stroke-width="0.9"/>
<text x="481.20" y="270.10" font-size="6.5" font-weight="bold" fill="#111111" text-anchor="middle">NSC</text>
<line x1="497.50" y1="261.60" x2="497.50" y2="263.60" stroke="#000" stroke-width="0.9"/>
<text x="497.50" y="270.10" font-size="6.5" font-weight="bold" fill="#111111" text-anchor="middle">BP</text>
<line x1="513.70" y1="261.60" x2="513.70" y2="263.60" stroke="#000" stroke-width="0.9"/>
<text x="513.70" y="270.10" font-size="6.5" font-weight="bold" fill="#111111" text-anchor="middle">ABP</text>
<line x1="530.00" y1="261.60" x2="530.00" y2="263.60" stroke="#000" stroke-width="0.9"/>
<text x="530.00" y="270.10" font-size="6.5" font-weight="bold" fill="#111111" text-anchor="middle">SBI</text>
<line x1="472.30" y1="262.10" x2="472.30" y2="282.60" stroke="#000" stroke-width="1.25"/>
<text x="439.80" y="279.70" font-size="7.1" font-weight="bold" fill="#111111" text-anchor="middle">Non-dialyzed</text>
<text x="497.40" y="279.70" font-size="7.1" font-weight="bold" fill="#111111" text-anchor="middle">Dialyzed</text>
<text transform="translate(388.80,210.30) rotate(-90)" x="0" y="0" font-size="7" font-weight="bold" fill="#1a1a1a" text-anchor="middle">Propionate (mM)</text>
<text x="3.60" y="291.70" font-size="11" font-weight="bold" fill="#111111" text-anchor="start" letter-spacing="0.1">G.</text>
<line x1="42.40" y1="350.60" x2="42.40" y2="360.20" stroke="#5e5e5e" stroke-width="0.7"/>
<line x1="42.40" y1="374.30" x2="42.40" y2="380.00" stroke="#5e5e5e" stroke-width="0.7"/>
<line x1="39.80" y1="350.60" x2="45.00" y2="350.60" stroke="#5e5e5e" stroke-width="0.75"/>
<line x1="39.80" y1="380.00" x2="45.00" y2="380.00" stroke="#5e5e5e" stroke-width="0.75"/>
<rect x="37.10" y="360.20" width="10.60" height="14.10" fill="#ffffff" stroke="#6a6a6a" stroke-width="0.65"/>
<line x1="37.10" y1="367.10" x2="47.70" y2="367.10" stroke="#333333" stroke-width="0.8"/>
<circle cx="42.40" cy="350.60" r="1.15" fill="#78788c" stroke="#4e4e5c" stroke-width="0.45"/>
<circle cx="41.10" cy="363.00" r="1.15" fill="#78788c" stroke="#4e4e5c" stroke-width="0.45"/>
<circle cx="43.70" cy="367.00" r="1.15" fill="#78788c" stroke="#4e4e5c" stroke-width="0.45"/>
<circle cx="42.40" cy="370.50" r="1.15" fill="#78788c" stroke="#4e4e5c" stroke-width="0.45"/>
<circle cx="42.40" cy="380.00" r="1.15" fill="#78788c" stroke="#4e4e5c" stroke-width="0.45"/>
<line x1="58.60" y1="310.30" x2="58.60" y2="312.00" stroke="#5e5e5e" stroke-width="0.7"/>
<line x1="58.60" y1="340.30" x2="58.60" y2="348.00" stroke="#5e5e5e" stroke-width="0.7"/>
<line x1="56.00" y1="310.30" x2="61.20" y2="310.30" stroke="#5e5e5e" stroke-width="0.75"/>
<line x1="56.00" y1="348.00" x2="61.20" y2="348.00" stroke="#5e5e5e" stroke-width="0.75"/>
<rect x="53.30" y="312.00" width="10.60" height="28.30" fill="#fde725" stroke="#9c8d10" stroke-width="0.65"/>
<line x1="53.30" y1="321.90" x2="63.90" y2="321.90" stroke="#3a3510" stroke-width="0.8"/>
<circle cx="58.60" cy="310.30" r="1.15" fill="#78788c" stroke="#4e4e5c" stroke-width="0.45"/>
<circle cx="57.30" cy="312.50" r="1.15" fill="#78788c" stroke="#4e4e5c" stroke-width="0.45"/>
<circle cx="59.90" cy="320.00" r="1.15" fill="#78788c" stroke="#4e4e5c" stroke-width="0.45"/>
<circle cx="58.60" cy="324.00" r="1.15" fill="#78788c" stroke="#4e4e5c" stroke-width="0.45"/>
<circle cx="59.70" cy="338.00" r="1.15" fill="#78788c" stroke="#4e4e5c" stroke-width="0.45"/>
<circle cx="58.60" cy="348.00" r="1.15" fill="#78788c" stroke="#4e4e5c" stroke-width="0.45"/>
<line x1="74.90" y1="312.00" x2="74.90" y2="313.60" stroke="#5e5e5e" stroke-width="0.7"/>
<line x1="74.90" y1="338.70" x2="74.90" y2="346.90" stroke="#5e5e5e" stroke-width="0.7"/>
<line x1="72.30" y1="312.00" x2="77.50" y2="312.00" stroke="#5e5e5e" stroke-width="0.75"/>
<line x1="72.30" y1="346.90" x2="77.50" y2="346.90" stroke="#5e5e5e" stroke-width="0.75"/>
<rect x="69.60" y="313.60" width="10.60" height="25.10" fill="#33b679" stroke="#1f7d52" stroke-width="0.65"/>
<line x1="69.60" y1="320.20" x2="80.20" y2="320.20" stroke="#123a26" stroke-width="0.8"/>
<circle cx="74.90" cy="312.00" r="1.15" fill="#78788c" stroke="#4e4e5c" stroke-width="0.45"/>
<circle cx="73.60" cy="314.50" r="1.15" fill="#78788c" stroke="#4e4e5c" stroke-width="0.45"/>
<circle cx="76.20" cy="323.00" r="1.15" fill="#78788c" stroke="#4e4e5c" stroke-width="0.45"/>
<circle cx="74.90" cy="332.50" r="1.15" fill="#78788c" stroke="#4e4e5c" stroke-width="0.45"/>
<circle cx="74.90" cy="346.90" r="1.15" fill="#78788c" stroke="#4e4e5c" stroke-width="0.45"/>
<line x1="91.10" y1="319.70" x2="91.10" y2="320.50" stroke="#5e5e5e" stroke-width="0.7"/>
<line x1="91.10" y1="348.20" x2="91.10" y2="353.80" stroke="#5e5e5e" stroke-width="0.7"/>
<line x1="88.50" y1="319.70" x2="93.70" y2="319.70" stroke="#5e5e5e" stroke-width="0.75"/>
<line x1="88.50" y1="353.80" x2="93.70" y2="353.80" stroke="#5e5e5e" stroke-width="0.75"/>
<rect x="85.80" y="320.50" width="10.60" height="27.70" fill="#33449a" stroke="#1d2b6e" stroke-width="0.65"/>
<line x1="85.80" y1="331.20" x2="96.40" y2="331.20" stroke="#0f1738" stroke-width="0.8"/>
<circle cx="91.10" cy="319.70" r="1.15" fill="#78788c" stroke="#4e4e5c" stroke-width="0.45"/>
<circle cx="89.80" cy="330.50" r="1.15" fill="#78788c" stroke="#4e4e5c" stroke-width="0.45"/>
<circle cx="92.40" cy="345.50" r="1.15" fill="#78788c" stroke="#4e4e5c" stroke-width="0.45"/>
<circle cx="91.10" cy="353.80" r="1.15" fill="#78788c" stroke="#4e4e5c" stroke-width="0.45"/>
<circle cx="91.10" cy="321.00" r="1.15" fill="#78788c" stroke="#4e4e5c" stroke-width="0.45"/>
<line x1="107.40" y1="361.80" x2="107.40" y2="366.60" stroke="#5e5e5e" stroke-width="0.7"/>
<line x1="107.40" y1="377.00" x2="107.40" y2="382.70" stroke="#5e5e5e" stroke-width="0.7"/>
<line x1="104.80" y1="361.80" x2="110.00" y2="361.80" stroke="#5e5e5e" stroke-width="0.75"/>
<line x1="104.80" y1="382.70" x2="110.00" y2="382.70" stroke="#5e5e5e" stroke-width="0.75"/>
<rect x="102.10" y="366.60" width="10.60" height="10.40" fill="#dcdcdc" stroke="#7a7a7a" stroke-width="0.65"/>
<line x1="102.10" y1="370.40" x2="112.70" y2="370.40" stroke="#555555" stroke-width="0.8"/>
<circle cx="107.40" cy="361.80" r="1.15" fill="#78788c" stroke="#4e4e5c" stroke-width="0.45"/>
<circle cx="106.10" cy="368.50" r="1.15" fill="#78788c" stroke="#4e4e5c" stroke-width="0.45"/>
<circle cx="108.70" cy="371.00" r="1.15" fill="#78788c" stroke="#4e4e5c" stroke-width="0.45"/>
<circle cx="107.40" cy="374.00" r="1.15" fill="#78788c" stroke="#4e4e5c" stroke-width="0.45"/>
<circle cx="107.40" cy="382.70" r="1.15" fill="#78788c" stroke="#4e4e5c" stroke-width="0.45"/>
<line x1="123.70" y1="344.00" x2="123.70" y2="349.40" stroke="#5e5e5e" stroke-width="0.7"/>
<line x1="123.70" y1="360.50" x2="123.70" y2="370.00" stroke="#5e5e5e" stroke-width="0.7"/>
<line x1="121.10" y1="344.00" x2="126.30" y2="344.00" stroke="#5e5e5e" stroke-width="0.75"/>
<line x1="121.10" y1="370.00" x2="126.30" y2="370.00" stroke="#5e5e5e" stroke-width="0.75"/>
<rect x="118.40" y="349.40" width="10.60" height="11.10" fill="#f8ef88" stroke="#aca24a" stroke-width="0.65"/>
<line x1="118.40" y1="354.40" x2="129.00" y2="354.40" stroke="#8a8240" stroke-width="0.8"/>
<circle cx="123.70" cy="344.00" r="1.15" fill="#78788c" stroke="#4e4e5c" stroke-width="0.45"/>
<circle cx="122.40" cy="351.00" r="1.15" fill="#78788c" stroke="#4e4e5c" stroke-width="0.45"/>
<circle cx="125.00" cy="352.00" r="1.15" fill="#78788c" stroke="#4e4e5c" stroke-width="0.45"/>
<circle cx="123.70" cy="357.50" r="1.15" fill="#78788c" stroke="#4e4e5c" stroke-width="0.45"/>
<circle cx="124.80" cy="358.00" r="1.15" fill="#78788c" stroke="#4e4e5c" stroke-width="0.45"/>
<circle cx="123.70" cy="370.00" r="1.15" fill="#78788c" stroke="#4e4e5c" stroke-width="0.45"/>
<line x1="139.90" y1="344.50" x2="139.90" y2="349.30" stroke="#5e5e5e" stroke-width="0.7"/>
<line x1="139.90" y1="361.30" x2="139.90" y2="370.00" stroke="#5e5e5e" stroke-width="0.7"/>
<line x1="137.30" y1="344.50" x2="142.50" y2="344.50" stroke="#5e5e5e" stroke-width="0.75"/>
<line x1="137.30" y1="370.00" x2="142.50" y2="370.00" stroke="#5e5e5e" stroke-width="0.75"/>
<rect x="134.60" y="349.30" width="10.60" height="12.00" fill="#66cf9c" stroke="#3a9a6c" stroke-width="0.65"/>
<line x1="134.60" y1="353.60" x2="145.20" y2="353.60" stroke="#2a6e4e" stroke-width="0.8"/>
<circle cx="139.90" cy="344.50" r="1.15" fill="#78788c" stroke="#4e4e5c" stroke-width="0.45"/>
<circle cx="138.60" cy="351.00" r="1.15" fill="#78788c" stroke="#4e4e5c" stroke-width="0.45"/>
<circle cx="141.20" cy="355.00" r="1.15" fill="#78788c" stroke="#4e4e5c" stroke-width="0.45"/>
<circle cx="139.90" cy="358.50" r="1.15" fill="#78788c" stroke="#4e4e5c" stroke-width="0.45"/>
<circle cx="139.90" cy="370.00" r="1.15" fill="#78788c" stroke="#4e4e5c" stroke-width="0.45"/>
<line x1="156.20" y1="340.70" x2="156.20" y2="346.00" stroke="#5e5e5e" stroke-width="0.7"/>
<line x1="156.20" y1="360.50" x2="156.20" y2="366.20" stroke="#5e5e5e" stroke-width="0.7"/>
<line x1="153.60" y1="340.70" x2="158.80" y2="340.70" stroke="#5e5e5e" stroke-width="0.75"/>
<line x1="153.60" y1="366.20" x2="158.80" y2="366.20" stroke="#5e5e5e" stroke-width="0.75"/>
<rect x="150.90" y="346.00" width="10.60" height="14.50" fill="#6b77bc" stroke="#434f9a" stroke-width="0.65"/>
<line x1="150.90" y1="351.10" x2="161.50" y2="351.10" stroke="#2c3670" stroke-width="0.8"/>
<circle cx="156.20" cy="340.70" r="1.15" fill="#78788c" stroke="#4e4e5c" stroke-width="0.45"/>
<circle cx="154.90" cy="347.50" r="1.15" fill="#78788c" stroke="#4e4e5c" stroke-width="0.45"/>
<circle cx="157.50" cy="357.00" r="1.15" fill="#78788c" stroke="#4e4e5c" stroke-width="0.45"/>
<circle cx="156.20" cy="360.00" r="1.15" fill="#78788c" stroke="#4e4e5c" stroke-width="0.45"/>
<circle cx="156.20" cy="366.20" r="1.15" fill="#78788c" stroke="#4e4e5c" stroke-width="0.45"/>
<line x1="47.90" y1="367.10" x2="92.40" y2="367.10" stroke="#9c9c9c" stroke-width="0.6"/>
<line x1="113.70" y1="370.40" x2="157.40" y2="370.40" stroke="#9c9c9c" stroke-width="0.6"/>
<rect x="55.50" y="392.40" width="1.60" height="1.60" fill="#5a5a5a" stroke="none" stroke-width="0.6"/>
<rect x="57.80" y="392.40" width="1.60" height="1.60" fill="#5a5a5a" stroke="none" stroke-width="0.6"/>
<rect x="60.10" y="392.40" width="1.60" height="1.60" fill="#5a5a5a" stroke="none" stroke-width="0.6"/>
<rect x="71.80" y="392.40" width="1.60" height="1.60" fill="#5a5a5a" stroke="none" stroke-width="0.6"/>
<rect x="74.10" y="392.40" width="1.60" height="1.60" fill="#5a5a5a" stroke="none" stroke-width="0.6"/>
<rect x="76.40" y="392.40" width="1.60" height="1.60" fill="#5a5a5a" stroke="none" stroke-width="0.6"/>
<rect x="88.00" y="392.40" width="1.60" height="1.60" fill="#5a5a5a" stroke="none" stroke-width="0.6"/>
<rect x="90.30" y="392.40" width="1.60" height="1.60" fill="#5a5a5a" stroke="none" stroke-width="0.6"/>
<rect x="92.60" y="392.40" width="1.60" height="1.60" fill="#5a5a5a" stroke="none" stroke-width="0.6"/>
<text x="91.10" y="388.80" font-size="4.6" font-weight="normal" fill="#5a5a5a" text-anchor="middle">$$$</text>
<rect x="120.60" y="392.20" width="1.60" height="1.60" fill="#5a5a5a" stroke="none" stroke-width="0.6"/>
<rect x="122.90" y="392.20" width="1.60" height="1.60" fill="#5a5a5a" stroke="none" stroke-width="0.6"/>
<rect x="125.20" y="392.20" width="1.60" height="1.60" fill="#5a5a5a" stroke="none" stroke-width="0.6"/>
<rect x="136.80" y="392.20" width="1.60" height="1.60" fill="#5a5a5a" stroke="none" stroke-width="0.6"/>
<rect x="139.10" y="392.20" width="1.60" height="1.60" fill="#5a5a5a" stroke="none" stroke-width="0.6"/>
<rect x="141.40" y="392.20" width="1.60" height="1.60" fill="#5a5a5a" stroke="none" stroke-width="0.6"/>
<rect x="153.10" y="392.20" width="1.60" height="1.60" fill="#5a5a5a" stroke="none" stroke-width="0.6"/>
<rect x="155.40" y="392.20" width="1.60" height="1.60" fill="#5a5a5a" stroke="none" stroke-width="0.6"/>
<rect x="157.70" y="392.20" width="1.60" height="1.60" fill="#5a5a5a" stroke="none" stroke-width="0.6"/>
<line x1="32.10" y1="296.10" x2="32.10" y2="399.35" stroke="#000" stroke-width="1.5"/>
<line x1="31.35" y1="398.60" x2="168.10" y2="398.60" stroke="#000" stroke-width="1.5"/>
<line x1="28.10" y1="398.60" x2="32.10" y2="398.60" stroke="#000" stroke-width="1.2"/>
<text x="27.50" y="400.90" font-size="6.5" font-weight="bold" fill="#111111" text-anchor="end">0</text>
<line x1="28.10" y1="378.22" x2="32.10" y2="378.22" stroke="#000" stroke-width="1.2"/>
<text x="27.50" y="380.52" font-size="6.5" font-weight="bold" fill="#111111" text-anchor="end">2</text>
<line x1="28.10" y1="357.84" x2="32.10" y2="357.84" stroke="#000" stroke-width="1.2"/>
<text x="27.50" y="360.14" font-size="6.5" font-weight="bold" fill="#111111" text-anchor="end">4</text>
<line x1="28.10" y1="337.46" x2="32.10" y2="337.46" stroke="#000" stroke-width="1.2"/>
<text x="27.50" y="339.76" font-size="6.5" font-weight="bold" fill="#111111" text-anchor="end">6</text>
<line x1="28.10" y1="317.08" x2="32.10" y2="317.08" stroke="#000" stroke-width="1.2"/>
<text x="27.50" y="319.38" font-size="6.5" font-weight="bold" fill="#111111" text-anchor="end">8</text>
<line x1="28.10" y1="296.70" x2="32.10" y2="296.70" stroke="#000" stroke-width="1.2"/>
<text x="27.50" y="299.00" font-size="6.5" font-weight="bold" fill="#111111" text-anchor="end">10</text>
<line x1="42.70" y1="398.60" x2="42.70" y2="400.60" stroke="#000" stroke-width="0.9"/>
<text x="42.70" y="407.10" font-size="6.5" font-weight="bold" fill="#111111" text-anchor="middle">NSC</text>
<line x1="58.90" y1="398.60" x2="58.90" y2="400.60" stroke="#000" stroke-width="0.9"/>
<text x="58.90" y="407.10" font-size="6.5" font-weight="bold" fill="#111111" text-anchor="middle">BP</text>
<line x1="75.20" y1="398.60" x2="75.20" y2="400.60" stroke="#000" stroke-width="0.9"/>
<text x="75.20" y="407.10" font-size="6.5" font-weight="bold" fill="#111111" text-anchor="middle">ABP</text>
<line x1="91.40" y1="398.60" x2="91.40" y2="400.60" stroke="#000" stroke-width="0.9"/>
<text x="91.40" y="407.10" font-size="6.5" font-weight="bold" fill="#111111" text-anchor="middle">SBI</text>
<line x1="107.70" y1="398.60" x2="107.70" y2="400.60" stroke="#000" stroke-width="0.9"/>
<text x="107.70" y="407.10" font-size="6.5" font-weight="bold" fill="#111111" text-anchor="middle">NSC</text>
<line x1="124.00" y1="398.60" x2="124.00" y2="400.60" stroke="#000" stroke-width="0.9"/>
<text x="124.00" y="407.10" font-size="6.5" font-weight="bold" fill="#111111" text-anchor="middle">BP</text>
<line x1="140.20" y1="398.60" x2="140.20" y2="400.60" stroke="#000" stroke-width="0.9"/>
<text x="140.20" y="407.10" font-size="6.5" font-weight="bold" fill="#111111" text-anchor="middle">ABP</text>
<line x1="156.50" y1="398.60" x2="156.50" y2="400.60" stroke="#000" stroke-width="0.9"/>
<text x="156.50" y="407.10" font-size="6.5" font-weight="bold" fill="#111111" text-anchor="middle">SBI</text>
<line x1="98.80" y1="399.10" x2="98.80" y2="419.60" stroke="#000" stroke-width="1.25"/>
<text x="66.30" y="416.70" font-size="7.1" font-weight="bold" fill="#111111" text-anchor="middle">Non-dialyzed</text>
<text x="123.90" y="416.70" font-size="7.1" font-weight="bold" fill="#111111" text-anchor="middle">Dialyzed</text>
<text transform="translate(15.60,347.30) rotate(-90)" x="0" y="0" font-size="7" font-weight="bold" fill="#1a1a1a" text-anchor="middle">Butyrate (mM)</text>
<text x="189.60" y="291.90" font-size="11" font-weight="bold" fill="#111111" text-anchor="start" letter-spacing="0.1">H.</text>
<line x1="229.60" y1="372.00" x2="229.60" y2="374.60" stroke="#5e5e5e" stroke-width="0.7"/>
<line x1="229.60" y1="385.40" x2="229.60" y2="396.00" stroke="#5e5e5e" stroke-width="0.7"/>
<line x1="227.00" y1="372.00" x2="232.20" y2="372.00" stroke="#5e5e5e" stroke-width="0.75"/>
<line x1="227.00" y1="396.00" x2="232.20" y2="396.00" stroke="#5e5e5e" stroke-width="0.75"/>
<rect x="224.30" y="374.60" width="10.60" height="10.80" fill="#ffffff" stroke="#6a6a6a" stroke-width="0.65"/>
<line x1="224.30" y1="379.00" x2="234.90" y2="379.00" stroke="#333333" stroke-width="0.8"/>
<circle cx="229.60" cy="372.00" r="1.15" fill="#78788c" stroke="#4e4e5c" stroke-width="0.45"/>
<circle cx="228.30" cy="376.00" r="1.15" fill="#78788c" stroke="#4e4e5c" stroke-width="0.45"/>
<circle cx="230.90" cy="380.00" r="1.15" fill="#78788c" stroke="#4e4e5c" stroke-width="0.45"/>
<circle cx="229.60" cy="383.00" r="1.15" fill="#78788c" stroke="#4e4e5c" stroke-width="0.45"/>
<circle cx="229.60" cy="396.00" r="1.15" fill="#78788c" stroke="#4e4e5c" stroke-width="0.45"/>
<line x1="245.80" y1="325.40" x2="245.80" y2="333.60" stroke="#5e5e5e" stroke-width="0.7"/>
<line x1="245.80" y1="384.60" x2="245.80" y2="396.60" stroke="#5e5e5e" stroke-width="0.7"/>
<line x1="243.20" y1="325.40" x2="248.40" y2="325.40" stroke="#5e5e5e" stroke-width="0.75"/>
<line x1="243.20" y1="396.60" x2="248.40" y2="396.60" stroke="#5e5e5e" stroke-width="0.75"/>
<rect x="240.50" y="333.60" width="10.60" height="51.00" fill="#fde725" stroke="#9c8d10" stroke-width="0.65"/>
<line x1="240.50" y1="377.60" x2="251.10" y2="377.60" stroke="#3a3510" stroke-width="0.8"/>
<circle cx="245.80" cy="325.40" r="1.15" fill="#78788c" stroke="#4e4e5c" stroke-width="0.45"/>
<circle cx="244.50" cy="335.00" r="1.15" fill="#78788c" stroke="#4e4e5c" stroke-width="0.45"/>
<circle cx="247.10" cy="377.00" r="1.15" fill="#78788c" stroke="#4e4e5c" stroke-width="0.45"/>
<circle cx="245.80" cy="379.50" r="1.15" fill="#78788c" stroke="#4e4e5c" stroke-width="0.45"/>
<circle cx="246.90" cy="381.00" r="1.15" fill="#78788c" stroke="#4e4e5c" stroke-width="0.45"/>
<circle cx="245.80" cy="396.60" r="1.15" fill="#78788c" stroke="#4e4e5c" stroke-width="0.45"/>
<line x1="262.10" y1="328.00" x2="262.10" y2="339.60" stroke="#5e5e5e" stroke-width="0.7"/>
<line x1="262.10" y1="394.40" x2="262.10" y2="398.00" stroke="#5e5e5e" stroke-width="0.7"/>
<line x1="259.50" y1="328.00" x2="264.70" y2="328.00" stroke="#5e5e5e" stroke-width="0.75"/>
<line x1="259.50" y1="398.00" x2="264.70" y2="398.00" stroke="#5e5e5e" stroke-width="0.75"/>
<rect x="256.80" y="339.60" width="10.60" height="54.80" fill="#33b679" stroke="#1f7d52" stroke-width="0.65"/>
<line x1="256.80" y1="379.60" x2="267.40" y2="379.60" stroke="#123a26" stroke-width="0.8"/>
<circle cx="262.10" cy="328.00" r="1.15" fill="#78788c" stroke="#4e4e5c" stroke-width="0.45"/>
<circle cx="260.80" cy="342.00" r="1.15" fill="#78788c" stroke="#4e4e5c" stroke-width="0.45"/>
<circle cx="263.40" cy="378.00" r="1.15" fill="#78788c" stroke="#4e4e5c" stroke-width="0.45"/>
<circle cx="262.10" cy="382.00" r="1.15" fill="#78788c" stroke="#4e4e5c" stroke-width="0.45"/>
<circle cx="263.20" cy="393.50" r="1.15" fill="#78788c" stroke="#4e4e5c" stroke-width="0.45"/>
<circle cx="262.10" cy="397.00" r="1.15" fill="#78788c" stroke="#4e4e5c" stroke-width="0.45"/>
<line x1="278.30" y1="321.40" x2="278.30" y2="338.40" stroke="#5e5e5e" stroke-width="0.7"/>
<line x1="278.30" y1="395.60" x2="278.30" y2="398.00" stroke="#5e5e5e" stroke-width="0.7"/>
<line x1="275.70" y1="321.40" x2="280.90" y2="321.40" stroke="#5e5e5e" stroke-width="0.75"/>
<line x1="275.70" y1="398.00" x2="280.90" y2="398.00" stroke="#5e5e5e" stroke-width="0.75"/>
<rect x="273.00" y="338.40" width="10.60" height="57.20" fill="#33449a" stroke="#1d2b6e" stroke-width="0.65"/>
<line x1="273.00" y1="386.00" x2="283.60" y2="386.00" stroke="#0f1738" stroke-width="0.8"/>
<circle cx="278.30" cy="321.40" r="1.15" fill="#78788c" stroke="#4e4e5c" stroke-width="0.45"/>
<circle cx="277.00" cy="343.00" r="1.15" fill="#78788c" stroke="#4e4e5c" stroke-width="0.45"/>
<circle cx="279.60" cy="384.00" r="1.15" fill="#78788c" stroke="#4e4e5c" stroke-width="0.45"/>
<circle cx="278.30" cy="389.00" r="1.15" fill="#78788c" stroke="#4e4e5c" stroke-width="0.45"/>
<circle cx="278.30" cy="396.50" r="1.15" fill="#78788c" stroke="#4e4e5c" stroke-width="0.45"/>
<line x1="294.60" y1="366.00" x2="294.60" y2="371.00" stroke="#5e5e5e" stroke-width="0.7"/>
<line x1="294.60" y1="388.60" x2="294.60" y2="395.40" stroke="#5e5e5e" stroke-width="0.7"/>
<line x1="292.00" y1="366.00" x2="297.20" y2="366.00" stroke="#5e5e5e" stroke-width="0.75"/>
<line x1="292.00" y1="395.40" x2="297.20" y2="395.40" stroke="#5e5e5e" stroke-width="0.75"/>
<rect x="289.30" y="371.00" width="10.60" height="17.60" fill="#dcdcdc" stroke="#7a7a7a" stroke-width="0.65"/>
<line x1="289.30" y1="379.40" x2="299.90" y2="379.40" stroke="#555555" stroke-width="0.8"/>
<circle cx="294.60" cy="366.00" r="1.15" fill="#78788c" stroke="#4e4e5c" stroke-width="0.45"/>
<circle cx="293.30" cy="379.00" r="1.15" fill="#78788c" stroke="#4e4e5c" stroke-width="0.45"/>
<circle cx="295.90" cy="379.50" r="1.15" fill="#78788c" stroke="#4e4e5c" stroke-width="0.45"/>
<circle cx="294.60" cy="388.00" r="1.15" fill="#78788c" stroke="#4e4e5c" stroke-width="0.45"/>
<circle cx="294.60" cy="395.40" r="1.15" fill="#78788c" stroke="#4e4e5c" stroke-width="0.45"/>
<line x1="310.90" y1="351.00" x2="310.90" y2="357.00" stroke="#5e5e5e" stroke-width="0.7"/>
<line x1="310.90" y1="388.00" x2="310.90" y2="398.00" stroke="#5e5e5e" stroke-width="0.7"/>
<line x1="308.30" y1="351.00" x2="313.50" y2="351.00" stroke="#5e5e5e" stroke-width="0.75"/>
<line x1="308.30" y1="398.00" x2="313.50" y2="398.00" stroke="#5e5e5e" stroke-width="0.75"/>
<rect x="305.60" y="357.00" width="10.60" height="31.00" fill="#f8ef88" stroke="#aca24a" stroke-width="0.65"/>
<line x1="305.60" y1="374.60" x2="316.20" y2="374.60" stroke="#8a8240" stroke-width="0.8"/>
<circle cx="310.90" cy="351.00" r="1.15" fill="#78788c" stroke="#4e4e5c" stroke-width="0.45"/>
<circle cx="309.60" cy="358.00" r="1.15" fill="#78788c" stroke="#4e4e5c" stroke-width="0.45"/>
<circle cx="312.20" cy="374.00" r="1.15" fill="#78788c" stroke="#4e4e5c" stroke-width="0.45"/>
<circle cx="310.90" cy="377.50" r="1.15" fill="#78788c" stroke="#4e4e5c" stroke-width="0.45"/>
<circle cx="312.00" cy="385.00" r="1.15" fill="#78788c" stroke="#4e4e5c" stroke-width="0.45"/>
<circle cx="310.90" cy="397.50" r="1.15" fill="#78788c" stroke="#4e4e5c" stroke-width="0.45"/>
<line x1="327.10" y1="353.60" x2="327.10" y2="357.00" stroke="#5e5e5e" stroke-width="0.7"/>
<line x1="327.10" y1="392.60" x2="327.10" y2="398.00" stroke="#5e5e5e" stroke-width="0.7"/>
<line x1="324.50" y1="353.60" x2="329.70" y2="353.60" stroke="#5e5e5e" stroke-width="0.75"/>
<line x1="324.50" y1="398.00" x2="329.70" y2="398.00" stroke="#5e5e5e" stroke-width="0.75"/>
<rect x="321.80" y="357.00" width="10.60" height="35.60" fill="#66cf9c" stroke="#3a9a6c" stroke-width="0.65"/>
<line x1="321.80" y1="380.00" x2="332.40" y2="380.00" stroke="#2a6e4e" stroke-width="0.8"/>
<circle cx="327.10" cy="353.60" r="1.15" fill="#78788c" stroke="#4e4e5c" stroke-width="0.45"/>
<circle cx="325.80" cy="378.50" r="1.15" fill="#78788c" stroke="#4e4e5c" stroke-width="0.45"/>
<circle cx="328.40" cy="380.00" r="1.15" fill="#78788c" stroke="#4e4e5c" stroke-width="0.45"/>
<circle cx="327.10" cy="381.50" r="1.15" fill="#78788c" stroke="#4e4e5c" stroke-width="0.45"/>
<circle cx="328.20" cy="391.00" r="1.15" fill="#78788c" stroke="#4e4e5c" stroke-width="0.45"/>
<circle cx="327.10" cy="397.50" r="1.15" fill="#78788c" stroke="#4e4e5c" stroke-width="0.45"/>
<line x1="343.40" y1="338.40" x2="343.40" y2="352.00" stroke="#5e5e5e" stroke-width="0.7"/>
<line x1="343.40" y1="393.40" x2="343.40" y2="398.00" stroke="#5e5e5e" stroke-width="0.7"/>
<line x1="340.80" y1="338.40" x2="346.00" y2="338.40" stroke="#5e5e5e" stroke-width="0.75"/>
<line x1="340.80" y1="398.00" x2="346.00" y2="398.00" stroke="#5e5e5e" stroke-width="0.75"/>
<rect x="338.10" y="352.00" width="10.60" height="41.40" fill="#6b77bc" stroke="#434f9a" stroke-width="0.65"/>
<line x1="338.10" y1="376.60" x2="348.70" y2="376.60" stroke="#2c3670" stroke-width="0.8"/>
<circle cx="343.40" cy="338.40" r="1.15" fill="#78788c" stroke="#4e4e5c" stroke-width="0.45"/>
<circle cx="342.10" cy="356.50" r="1.15" fill="#78788c" stroke="#4e4e5c" stroke-width="0.45"/>
<circle cx="344.70" cy="377.00" r="1.15" fill="#78788c" stroke="#4e4e5c" stroke-width="0.45"/>
<circle cx="343.40" cy="377.50" r="1.15" fill="#78788c" stroke="#4e4e5c" stroke-width="0.45"/>
<circle cx="344.50" cy="392.00" r="1.15" fill="#78788c" stroke="#4e4e5c" stroke-width="0.45"/>
<circle cx="343.40" cy="397.50" r="1.15" fill="#78788c" stroke="#4e4e5c" stroke-width="0.45"/>
<line x1="235.00" y1="379.40" x2="278.40" y2="379.40" stroke="#7c7c7c" stroke-width="0.6"/>
<line x1="300.00" y1="379.40" x2="343.00" y2="379.40" stroke="#7c7c7c" stroke-width="0.6"/>
<line x1="219.00" y1="296.10" x2="219.00" y2="399.35" stroke="#000" stroke-width="1.5"/>
<line x1="218.25" y1="398.60" x2="355.00" y2="398.60" stroke="#000" stroke-width="1.5"/>
<line x1="215.00" y1="398.60" x2="219.00" y2="398.60" stroke="#000" stroke-width="1.2"/>
<text x="214.40" y="400.90" font-size="6.5" font-weight="bold" fill="#111111" text-anchor="end">0</text>
<line x1="215.00" y1="373.12" x2="219.00" y2="373.12" stroke="#000" stroke-width="1.2"/>
<text x="214.40" y="375.42" font-size="6.5" font-weight="bold" fill="#111111" text-anchor="end">1</text>
<line x1="215.00" y1="347.65" x2="219.00" y2="347.65" stroke="#000" stroke-width="1.2"/>
<text x="214.40" y="349.95" font-size="6.5" font-weight="bold" fill="#111111" text-anchor="end">2</text>
<line x1="215.00" y1="322.18" x2="219.00" y2="322.18" stroke="#000" stroke-width="1.2"/>
<text x="214.40" y="324.48" font-size="6.5" font-weight="bold" fill="#111111" text-anchor="end">3</text>
<line x1="215.00" y1="296.70" x2="219.00" y2="296.70" stroke="#000" stroke-width="1.2"/>
<text x="214.40" y="299.00" font-size="6.5" font-weight="bold" fill="#111111" text-anchor="end">4</text>
<line x1="229.60" y1="398.60" x2="229.60" y2="400.60" stroke="#000" stroke-width="0.9"/>
<text x="229.60" y="407.10" font-size="6.5" font-weight="bold" fill="#111111" text-anchor="middle">NSC</text>
<line x1="245.80" y1="398.60" x2="245.80" y2="400.60" stroke="#000" stroke-width="0.9"/>
<text x="245.80" y="407.10" font-size="6.5" font-weight="bold" fill="#111111" text-anchor="middle">BP</text>
<line x1="262.10" y1="398.60" x2="262.10" y2="400.60" stroke="#000" stroke-width="0.9"/>
<text x="262.10" y="407.10" font-size="6.5" font-weight="bold" fill="#111111" text-anchor="middle">ABP</text>
<line x1="278.30" y1="398.60" x2="278.30" y2="400.60" stroke="#000" stroke-width="0.9"/>
<text x="278.30" y="407.10" font-size="6.5" font-weight="bold" fill="#111111" text-anchor="middle">SBI</text>
<line x1="294.60" y1="398.60" x2="294.60" y2="400.60" stroke="#000" stroke-width="0.9"/>
<text x="294.60" y="407.10" font-size="6.5" font-weight="bold" fill="#111111" text-anchor="middle">NSC</text>
<line x1="310.90" y1="398.60" x2="310.90" y2="400.60" stroke="#000" stroke-width="0.9"/>
<text x="310.90" y="407.10" font-size="6.5" font-weight="bold" fill="#111111" text-anchor="middle">BP</text>
<line x1="327.10" y1="398.60" x2="327.10" y2="400.60" stroke="#000" stroke-width="0.9"/>
<text x="327.10" y="407.10" font-size="6.5" font-weight="bold" fill="#111111" text-anchor="middle">ABP</text>
<line x1="343.40" y1="398.60" x2="343.40" y2="400.60" stroke="#000" stroke-width="0.9"/>
<text x="343.40" y="407.10" font-size="6.5" font-weight="bold" fill="#111111" text-anchor="middle">SBI</text>
<line x1="285.70" y1="399.10" x2="285.70" y2="419.60" stroke="#000" stroke-width="1.25"/>
<text x="253.20" y="416.70" font-size="7.1" font-weight="bold" fill="#111111" text-anchor="middle">Non-dialyzed</text>
<text x="310.80" y="416.70" font-size="7.1" font-weight="bold" fill="#111111" text-anchor="middle">Dialyzed</text>
<text transform="translate(205.60,346.70) rotate(-90)" x="0" y="0" font-size="7" font-weight="bold" fill="#1a1a1a" text-anchor="middle">Valerate (mM)</text>
<text x="366.20" y="291.90" font-size="11" font-weight="bold" fill="#111111" text-anchor="start" letter-spacing="0.1">I.</text>
<line x1="416.40" y1="378.30" x2="416.40" y2="381.00" stroke="#5e5e5e" stroke-width="0.7"/>
<line x1="416.40" y1="392.80" x2="416.40" y2="395.50" stroke="#5e5e5e" stroke-width="0.7"/>
<line x1="413.80" y1="378.30" x2="419.00" y2="378.30" stroke="#5e5e5e" stroke-width="0.75"/>
<line x1="413.80" y1="395.50" x2="419.00" y2="395.50" stroke="#5e5e5e" stroke-width="0.75"/>
<rect x="411.10" y="381.00" width="10.60" height="11.80" fill="#ffffff" stroke="#6a6a6a" stroke-width="0.65"/>
<line x1="411.10" y1="390.00" x2="421.70" y2="390.00" stroke="#333333" stroke-width="0.8"/>
<circle cx="416.40" cy="378.30" r="1.15" fill="#78788c" stroke="#4e4e5c" stroke-width="0.45"/>
<circle cx="415.10" cy="384.00" r="1.15" fill="#78788c" stroke="#4e4e5c" stroke-width="0.45"/>
<circle cx="417.70" cy="390.50" r="1.15" fill="#78788c" stroke="#4e4e5c" stroke-width="0.45"/>
<circle cx="416.40" cy="393.00" r="1.15" fill="#78788c" stroke="#4e4e5c" stroke-width="0.45"/>
<circle cx="416.40" cy="395.50" r="1.15" fill="#78788c" stroke="#4e4e5c" stroke-width="0.45"/>
<line x1="432.60" y1="315.70" x2="432.60" y2="319.50" stroke="#5e5e5e" stroke-width="0.7"/>
<line x1="432.60" y1="386.60" x2="432.60" y2="390.40" stroke="#5e5e5e" stroke-width="0.7"/>
<line x1="430.00" y1="315.70" x2="435.20" y2="315.70" stroke="#5e5e5e" stroke-width="0.75"/>
<line x1="430.00" y1="390.40" x2="435.20" y2="390.40" stroke="#5e5e5e" stroke-width="0.75"/>
<rect x="427.30" y="319.50" width="10.60" height="67.10" fill="#fde725" stroke="#9c8d10" stroke-width="0.65"/>
<line x1="427.30" y1="365.80" x2="437.90" y2="365.80" stroke="#3a3510" stroke-width="0.8"/>
<circle cx="432.60" cy="315.70" r="1.15" fill="#78788c" stroke="#4e4e5c" stroke-width="0.45"/>
<circle cx="431.30" cy="320.50" r="1.15" fill="#78788c" stroke="#4e4e5c" stroke-width="0.45"/>
<circle cx="433.90" cy="359.00" r="1.15" fill="#78788c" stroke="#4e4e5c" stroke-width="0.45"/>
<circle cx="432.60" cy="373.50" r="1.15" fill="#78788c" stroke="#4e4e5c" stroke-width="0.45"/>
<circle cx="433.70" cy="386.00" r="1.15" fill="#78788c" stroke="#4e4e5c" stroke-width="0.45"/>
<circle cx="432.60" cy="390.40" r="1.15" fill="#78788c" stroke="#4e4e5c" stroke-width="0.45"/>
<line x1="448.90" y1="312.80" x2="448.90" y2="320.00" stroke="#5e5e5e" stroke-width="0.7"/>
<line x1="448.90" y1="390.40" x2="448.90" y2="390.40" stroke="#5e5e5e" stroke-width="0.7"/>
<line x1="446.30" y1="312.80" x2="451.50" y2="312.80" stroke="#5e5e5e" stroke-width="0.75"/>
<line x1="446.30" y1="390.40" x2="451.50" y2="390.40" stroke="#5e5e5e" stroke-width="0.75"/>
<rect x="443.60" y="320.00" width="10.60" height="70.40" fill="#33b679" stroke="#1f7d52" stroke-width="0.65"/>
<line x1="443.60" y1="389.00" x2="454.20" y2="389.00" stroke="#123a26" stroke-width="0.8"/>
<circle cx="448.90" cy="312.80" r="1.15" fill="#78788c" stroke="#4e4e5c" stroke-width="0.45"/>
<circle cx="447.60" cy="321.00" r="1.15" fill="#78788c" stroke="#4e4e5c" stroke-width="0.45"/>
<circle cx="450.20" cy="389.00" r="1.15" fill="#78788c" stroke="#4e4e5c" stroke-width="0.45"/>
<circle cx="448.90" cy="390.00" r="1.15" fill="#78788c" stroke="#4e4e5c" stroke-width="0.45"/>
<circle cx="448.90" cy="388.50" r="1.15" fill="#78788c" stroke="#4e4e5c" stroke-width="0.45"/>
<line x1="465.10" y1="327.80" x2="465.10" y2="330.00" stroke="#5e5e5e" stroke-width="0.7"/>
<line x1="465.10" y1="384.80" x2="465.10" y2="388.10" stroke="#5e5e5e" stroke-width="0.7"/>
<line x1="462.50" y1="327.80" x2="467.70" y2="327.80" stroke="#5e5e5e" stroke-width="0.75"/>
<line x1="462.50" y1="388.10" x2="467.70" y2="388.10" stroke="#5e5e5e" stroke-width="0.75"/>
<rect x="459.80" y="330.00" width="10.60" height="54.80" fill="#33449a" stroke="#1d2b6e" stroke-width="0.65"/>
<line x1="459.80" y1="384.00" x2="470.40" y2="384.00" stroke="#0f1738" stroke-width="0.8"/>
<circle cx="465.10" cy="327.80" r="1.15" fill="#78788c" stroke="#4e4e5c" stroke-width="0.45"/>
<circle cx="463.80" cy="331.00" r="1.15" fill="#78788c" stroke="#4e4e5c" stroke-width="0.45"/>
<circle cx="466.40" cy="384.50" r="1.15" fill="#78788c" stroke="#4e4e5c" stroke-width="0.45"/>
<circle cx="465.10" cy="385.00" r="1.15" fill="#78788c" stroke="#4e4e5c" stroke-width="0.45"/>
<circle cx="465.10" cy="388.10" r="1.15" fill="#78788c" stroke="#4e4e5c" stroke-width="0.45"/>
<line x1="481.40" y1="381.00" x2="481.40" y2="383.00" stroke="#5e5e5e" stroke-width="0.7"/>
<line x1="481.40" y1="393.40" x2="481.40" y2="395.90" stroke="#5e5e5e" stroke-width="0.7"/>
<line x1="478.80" y1="381.00" x2="484.00" y2="381.00" stroke="#5e5e5e" stroke-width="0.75"/>
<line x1="478.80" y1="395.90" x2="484.00" y2="395.90" stroke="#5e5e5e" stroke-width="0.75"/>
<rect x="476.10" y="383.00" width="10.60" height="10.40" fill="#dcdcdc" stroke="#7a7a7a" stroke-width="0.65"/>
<line x1="476.10" y1="388.00" x2="486.70" y2="388.00" stroke="#555555" stroke-width="0.8"/>
<circle cx="481.40" cy="381.00" r="1.15" fill="#78788c" stroke="#4e4e5c" stroke-width="0.45"/>
<circle cx="480.10" cy="385.00" r="1.15" fill="#78788c" stroke="#4e4e5c" stroke-width="0.45"/>
<circle cx="482.70" cy="390.00" r="1.15" fill="#78788c" stroke="#4e4e5c" stroke-width="0.45"/>
<circle cx="481.40" cy="393.50" r="1.15" fill="#78788c" stroke="#4e4e5c" stroke-width="0.45"/>
<circle cx="481.40" cy="395.90" r="1.15" fill="#78788c" stroke="#4e4e5c" stroke-width="0.45"/>
<line x1="497.70" y1="361.30" x2="497.70" y2="364.30" stroke="#5e5e5e" stroke-width="0.7"/>
<line x1="497.70" y1="393.10" x2="497.70" y2="393.10" stroke="#5e5e5e" stroke-width="0.7"/>
<line x1="495.10" y1="361.30" x2="500.30" y2="361.30" stroke="#5e5e5e" stroke-width="0.75"/>
<line x1="495.10" y1="393.10" x2="500.30" y2="393.10" stroke="#5e5e5e" stroke-width="0.75"/>
<rect x="492.40" y="364.30" width="10.60" height="28.80" fill="#f8ef88" stroke="#aca24a" stroke-width="0.65"/>
<line x1="492.40" y1="377.40" x2="503.00" y2="377.40" stroke="#8a8240" stroke-width="0.8"/>
<circle cx="497.70" cy="361.30" r="1.15" fill="#78788c" stroke="#4e4e5c" stroke-width="0.45"/>
<circle cx="496.40" cy="365.00" r="1.15" fill="#78788c" stroke="#4e4e5c" stroke-width="0.45"/>
<circle cx="499.00" cy="387.00" r="1.15" fill="#78788c" stroke="#4e4e5c" stroke-width="0.45"/>
<circle cx="497.70" cy="393.00" r="1.15" fill="#78788c" stroke="#4e4e5c" stroke-width="0.45"/>
<circle cx="497.70" cy="392.50" r="1.15" fill="#78788c" stroke="#4e4e5c" stroke-width="0.45"/>
<line x1="513.90" y1="364.60" x2="513.90" y2="367.10" stroke="#5e5e5e" stroke-width="0.7"/>
<line x1="513.90" y1="392.30" x2="513.90" y2="394.60" stroke="#5e5e5e" stroke-width="0.7"/>
<line x1="511.30" y1="364.60" x2="516.50" y2="364.60" stroke="#5e5e5e" stroke-width="0.75"/>
<line x1="511.30" y1="394.60" x2="516.50" y2="394.60" stroke="#5e5e5e" stroke-width="0.75"/>
<rect x="508.60" y="367.10" width="10.60" height="25.20" fill="#66cf9c" stroke="#3a9a6c" stroke-width="0.65"/>
<line x1="508.60" y1="378.30" x2="519.20" y2="378.30" stroke="#2a6e4e" stroke-width="0.8"/>
<circle cx="513.90" cy="364.60" r="1.15" fill="#78788c" stroke="#4e4e5c" stroke-width="0.45"/>
<circle cx="512.60" cy="367.50" r="1.15" fill="#78788c" stroke="#4e4e5c" stroke-width="0.45"/>
<circle cx="515.20" cy="388.00" r="1.15" fill="#78788c" stroke="#4e4e5c" stroke-width="0.45"/>
<circle cx="513.90" cy="391.50" r="1.15" fill="#78788c" stroke="#4e4e5c" stroke-width="0.45"/>
<circle cx="513.90" cy="394.60" r="1.15" fill="#78788c" stroke="#4e4e5c" stroke-width="0.45"/>
<line x1="530.20" y1="349.40" x2="530.20" y2="355.90" stroke="#5e5e5e" stroke-width="0.7"/>
<line x1="530.20" y1="391.00" x2="530.20" y2="391.00" stroke="#5e5e5e" stroke-width="0.7"/>
<line x1="527.60" y1="349.40" x2="532.80" y2="349.40" stroke="#5e5e5e" stroke-width="0.75"/>
<line x1="527.60" y1="391.00" x2="532.80" y2="391.00" stroke="#5e5e5e" stroke-width="0.75"/>
<rect x="524.90" y="355.90" width="10.60" height="35.10" fill="#6b77bc" stroke="#434f9a" stroke-width="0.65"/>
<line x1="524.90" y1="386.00" x2="535.50" y2="386.00" stroke="#2c3670" stroke-width="0.8"/>
<circle cx="530.20" cy="349.40" r="1.15" fill="#78788c" stroke="#4e4e5c" stroke-width="0.45"/>
<circle cx="528.90" cy="357.50" r="1.15" fill="#78788c" stroke="#4e4e5c" stroke-width="0.45"/>
<circle cx="531.50" cy="382.00" r="1.15" fill="#78788c" stroke="#4e4e5c" stroke-width="0.45"/>
<circle cx="530.20" cy="390.50" r="1.15" fill="#78788c" stroke="#4e4e5c" stroke-width="0.45"/>
<circle cx="530.20" cy="390.50" r="1.15" fill="#78788c" stroke="#4e4e5c" stroke-width="0.45"/>
<line x1="421.80" y1="390.40" x2="464.80" y2="390.40" stroke="#888888" stroke-width="0.6"/>
<line x1="486.80" y1="388.20" x2="530.30" y2="388.20" stroke="#888888" stroke-width="0.6"/>
<line x1="405.60" y1="296.10" x2="405.60" y2="399.35" stroke="#000" stroke-width="1.5"/>
<line x1="404.85" y1="398.60" x2="541.60" y2="398.60" stroke="#000" stroke-width="1.5"/>
<line x1="401.60" y1="398.60" x2="405.60" y2="398.60" stroke="#000" stroke-width="1.2"/>
<text x="401.00" y="400.90" font-size="6.5" font-weight="bold" fill="#111111" text-anchor="end">0</text>
<line x1="401.60" y1="378.22" x2="405.60" y2="378.22" stroke="#000" stroke-width="1.2"/>
<text x="401.00" y="380.52" font-size="6.5" font-weight="bold" fill="#111111" text-anchor="end">2</text>
<line x1="401.60" y1="357.84" x2="405.60" y2="357.84" stroke="#000" stroke-width="1.2"/>
<text x="401.00" y="360.14" font-size="6.5" font-weight="bold" fill="#111111" text-anchor="end">4</text>
<line x1="401.60" y1="337.46" x2="405.60" y2="337.46" stroke="#000" stroke-width="1.2"/>
<text x="401.00" y="339.76" font-size="6.5" font-weight="bold" fill="#111111" text-anchor="end">6</text>
<line x1="401.60" y1="317.08" x2="405.60" y2="317.08" stroke="#000" stroke-width="1.2"/>
<text x="401.00" y="319.38" font-size="6.5" font-weight="bold" fill="#111111" text-anchor="end">8</text>
<line x1="401.60" y1="296.70" x2="405.60" y2="296.70" stroke="#000" stroke-width="1.2"/>
<text x="401.00" y="299.00" font-size="6.5" font-weight="bold" fill="#111111" text-anchor="end">10</text>
<line x1="416.20" y1="398.60" x2="416.20" y2="400.60" stroke="#000" stroke-width="0.9"/>
<text x="416.20" y="407.10" font-size="6.5" font-weight="bold" fill="#111111" text-anchor="middle">NSC</text>
<line x1="432.40" y1="398.60" x2="432.40" y2="400.60" stroke="#000" stroke-width="0.9"/>
<text x="432.40" y="407.10" font-size="6.5" font-weight="bold" fill="#111111" text-anchor="middle">BP</text>
<line x1="448.70" y1="398.60" x2="448.70" y2="400.60" stroke="#000" stroke-width="0.9"/>
<text x="448.70" y="407.10" font-size="6.5" font-weight="bold" fill="#111111" text-anchor="middle">ABP</text>
<line x1="464.90" y1="398.60" x2="464.90" y2="400.60" stroke="#000" stroke-width="0.9"/>
<text x="464.90" y="407.10" font-size="6.5" font-weight="bold" fill="#111111" text-anchor="middle">SBI</text>
<line x1="481.20" y1="398.60" x2="481.20" y2="400.60" stroke="#000" stroke-width="0.9"/>
<text x="481.20" y="407.10" font-size="6.5" font-weight="bold" fill="#111111" text-anchor="middle">NSC</text>
<line x1="497.50" y1="398.60" x2="497.50" y2="400.60" stroke="#000" stroke-width="0.9"/>
<text x="497.50" y="407.10" font-size="6.5" font-weight="bold" fill="#111111" text-anchor="middle">BP</text>
<line x1="513.70" y1="398.60" x2="513.70" y2="400.60" stroke="#000" stroke-width="0.9"/>
<text x="513.70" y="407.10" font-size="6.5" font-weight="bold" fill="#111111" text-anchor="middle">ABP</text>
<line x1="530.00" y1="398.60" x2="530.00" y2="400.60" stroke="#000" stroke-width="0.9"/>
<text x="530.00" y="407.10" font-size="6.5" font-weight="bold" fill="#111111" text-anchor="middle">SBI</text>
<line x1="472.30" y1="399.10" x2="472.30" y2="419.60" stroke="#000" stroke-width="1.9"/>
<text x="439.80" y="416.70" font-size="7.1" font-weight="bold" fill="#111111" text-anchor="middle">Non-dialyzed</text>
<text x="497.40" y="416.70" font-size="7.1" font-weight="bold" fill="#111111" text-anchor="middle">Dialyzed</text>
<text transform="translate(389.00,347.50) rotate(-90)" x="0" y="0" font-size="7" font-weight="bold" fill="#1a1a1a" text-anchor="middle">bCFA (mM)</text>
</svg></body></html>
